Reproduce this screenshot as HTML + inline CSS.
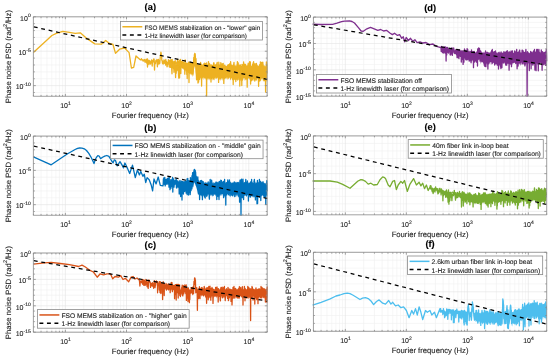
<!DOCTYPE html><html><head><meta charset="utf-8"><style>html,body{margin:0;padding:0;background:#fff;}svg{display:block;}</style></head><body><svg xmlns="http://www.w3.org/2000/svg" width="550" height="360" viewBox="0 0 550 360" font-family="Liberation Sans, sans-serif" fill="#262626" stroke-width="0" text-rendering="geometricPrecision"><defs><filter id="bl" x="0" y="0" width="550" height="360" filterUnits="userSpaceOnUse"><feGaussianBlur stdDeviation="0.35"/></filter></defs><g filter="url(#bl)"><rect width="550" height="360" fill="#fff"/><path d="M33.4 16.8V96.3M41.04 16.8V96.3M46.96 16.8V96.3M51.81 16.8V96.3M55.9 16.8V96.3M59.44 16.8V96.3M62.57 16.8V96.3M83.78 16.8V96.3M94.54 16.8V96.3M102.18 16.8V96.3M108.11 16.8V96.3M112.95 16.8V96.3M117.04 16.8V96.3M120.59 16.8V96.3M123.71 16.8V96.3M144.92 16.8V96.3M155.68 16.8V96.3M163.32 16.8V96.3M169.25 16.8V96.3M174.09 16.8V96.3M178.18 16.8V96.3M181.73 16.8V96.3M184.86 16.8V96.3M206.06 16.8V96.3M216.82 16.8V96.3M224.46 16.8V96.3M230.39 16.8V96.3M235.23 16.8V96.3M239.32 16.8V96.3M242.87 16.8V96.3M246 16.8V96.3M267.2 16.8V96.3M33.4 23.68H267.2M33.4 30.57H267.2M33.4 37.45H267.2M33.4 44.33H267.2M33.4 58.1H267.2M33.4 64.98H267.2M33.4 71.86H267.2M33.4 78.75H267.2M33.4 92.51H267.2" stroke="#f0f0f0" stroke-width="0.6" fill="none"/>
<path d="M65.37 16.8V96.3M126.51 16.8V96.3M187.65 16.8V96.3M248.79 16.8V96.3M33.4 16.8H267.2M33.4 51.22H267.2M33.4 85.63H267.2" stroke="#e3e3e3" stroke-width="0.6" fill="none"/>
<path d="M33.4 136.1V215.3M41.04 136.1V215.3M46.96 136.1V215.3M51.81 136.1V215.3M55.9 136.1V215.3M59.44 136.1V215.3M62.57 136.1V215.3M83.78 136.1V215.3M94.54 136.1V215.3M102.18 136.1V215.3M108.11 136.1V215.3M112.95 136.1V215.3M117.04 136.1V215.3M120.59 136.1V215.3M123.71 136.1V215.3M144.92 136.1V215.3M155.68 136.1V215.3M163.32 136.1V215.3M169.25 136.1V215.3M174.09 136.1V215.3M178.18 136.1V215.3M181.73 136.1V215.3M184.86 136.1V215.3M206.06 136.1V215.3M216.82 136.1V215.3M224.46 136.1V215.3M230.39 136.1V215.3M235.23 136.1V215.3M239.32 136.1V215.3M242.87 136.1V215.3M246 136.1V215.3M267.2 136.1V215.3M33.4 142.96H267.2M33.4 149.81H267.2M33.4 156.67H267.2M33.4 163.53H267.2M33.4 177.24H267.2M33.4 184.1H267.2M33.4 190.96H267.2M33.4 197.81H267.2M33.4 211.53H267.2" stroke="#f0f0f0" stroke-width="0.6" fill="none"/>
<path d="M65.37 136.1V215.3M126.51 136.1V215.3M187.65 136.1V215.3M248.79 136.1V215.3M33.4 136.1H267.2M33.4 170.39H267.2M33.4 204.67H267.2" stroke="#e3e3e3" stroke-width="0.6" fill="none"/>
<path d="M33.4 253V332.2M41.04 253V332.2M46.96 253V332.2M51.81 253V332.2M55.9 253V332.2M59.44 253V332.2M62.57 253V332.2M83.78 253V332.2M94.54 253V332.2M102.18 253V332.2M108.11 253V332.2M112.95 253V332.2M117.04 253V332.2M120.59 253V332.2M123.71 253V332.2M144.92 253V332.2M155.68 253V332.2M163.32 253V332.2M169.25 253V332.2M174.09 253V332.2M178.18 253V332.2M181.73 253V332.2M184.86 253V332.2M206.06 253V332.2M216.82 253V332.2M224.46 253V332.2M230.39 253V332.2M235.23 253V332.2M239.32 253V332.2M242.87 253V332.2M246 253V332.2M267.2 253V332.2M33.4 258.28H267.2M33.4 263.56H267.2M33.4 268.84H267.2M33.4 274.12H267.2M33.4 284.68H267.2M33.4 289.96H267.2M33.4 295.24H267.2M33.4 300.52H267.2M33.4 311.08H267.2M33.4 316.36H267.2M33.4 321.64H267.2M33.4 326.92H267.2" stroke="#f0f0f0" stroke-width="0.6" fill="none"/>
<path d="M65.37 253V332.2M126.51 253V332.2M187.65 253V332.2M248.79 253V332.2M33.4 253H267.2M33.4 279.4H267.2M33.4 305.8H267.2M33.4 332.2H267.2" stroke="#e3e3e3" stroke-width="0.6" fill="none"/>
<path d="M313.45 17.1V96.2M321.07 17.1V96.2M326.98 17.1V96.2M331.81 17.1V96.2M335.9 17.1V96.2M339.43 17.1V96.2M342.55 17.1V96.2M363.71 17.1V96.2M374.45 17.1V96.2M382.07 17.1V96.2M387.98 17.1V96.2M392.81 17.1V96.2M396.89 17.1V96.2M400.43 17.1V96.2M403.55 17.1V96.2M424.7 17.1V96.2M435.45 17.1V96.2M443.07 17.1V96.2M448.98 17.1V96.2M453.81 17.1V96.2M457.89 17.1V96.2M461.43 17.1V96.2M464.55 17.1V96.2M485.7 17.1V96.2M496.44 17.1V96.2M504.06 17.1V96.2M509.98 17.1V96.2M514.81 17.1V96.2M518.89 17.1V96.2M522.43 17.1V96.2M525.55 17.1V96.2M546.7 17.1V96.2M313.45 22.37H546.7M313.45 27.65H546.7M313.45 32.92H546.7M313.45 38.19H546.7M313.45 48.74H546.7M313.45 54.01H546.7M313.45 59.29H546.7M313.45 64.56H546.7M313.45 75.11H546.7M313.45 80.38H546.7M313.45 85.65H546.7M313.45 90.93H546.7" stroke="#f0f0f0" stroke-width="0.6" fill="none"/>
<path d="M345.34 17.1V96.2M406.34 17.1V96.2M467.34 17.1V96.2M528.34 17.1V96.2M313.45 17.1H546.7M313.45 43.47H546.7M313.45 69.83H546.7M313.45 96.2H546.7" stroke="#e3e3e3" stroke-width="0.6" fill="none"/>
<path d="M313.45 135.9V214.8M321.07 135.9V214.8M326.98 135.9V214.8M331.81 135.9V214.8M335.9 135.9V214.8M339.43 135.9V214.8M342.55 135.9V214.8M363.71 135.9V214.8M374.45 135.9V214.8M382.07 135.9V214.8M387.98 135.9V214.8M392.81 135.9V214.8M396.89 135.9V214.8M400.43 135.9V214.8M403.55 135.9V214.8M424.7 135.9V214.8M435.45 135.9V214.8M443.07 135.9V214.8M448.98 135.9V214.8M453.81 135.9V214.8M457.89 135.9V214.8M461.43 135.9V214.8M464.55 135.9V214.8M485.7 135.9V214.8M496.44 135.9V214.8M504.06 135.9V214.8M509.98 135.9V214.8M514.81 135.9V214.8M518.89 135.9V214.8M522.43 135.9V214.8M525.55 135.9V214.8M546.7 135.9V214.8M313.45 143.45H546.7M313.45 151H546.7M313.45 158.55H546.7M313.45 166.1H546.7M313.45 181.2H546.7M313.45 188.75H546.7M313.45 196.3H546.7M313.45 203.85H546.7" stroke="#f0f0f0" stroke-width="0.6" fill="none"/>
<path d="M345.34 135.9V214.8M406.34 135.9V214.8M467.34 135.9V214.8M528.34 135.9V214.8M313.45 135.9H546.7M313.45 173.65H546.7M313.45 211.4H546.7" stroke="#e3e3e3" stroke-width="0.6" fill="none"/>
<path d="M313.45 252.3V331.3M321.07 252.3V331.3M326.98 252.3V331.3M331.81 252.3V331.3M335.9 252.3V331.3M339.43 252.3V331.3M342.55 252.3V331.3M363.71 252.3V331.3M374.45 252.3V331.3M382.07 252.3V331.3M387.98 252.3V331.3M392.81 252.3V331.3M396.89 252.3V331.3M400.43 252.3V331.3M403.55 252.3V331.3M424.7 252.3V331.3M435.45 252.3V331.3M443.07 252.3V331.3M448.98 252.3V331.3M453.81 252.3V331.3M457.89 252.3V331.3M461.43 252.3V331.3M464.55 252.3V331.3M485.7 252.3V331.3M496.44 252.3V331.3M504.06 252.3V331.3M509.98 252.3V331.3M514.81 252.3V331.3M518.89 252.3V331.3M522.43 252.3V331.3M525.55 252.3V331.3M546.7 252.3V331.3M313.45 260.2H546.7M313.45 268.1H546.7M313.45 276H546.7M313.45 283.9H546.7M313.45 299.7H546.7M313.45 307.6H546.7M313.45 315.5H546.7M313.45 323.4H546.7" stroke="#f0f0f0" stroke-width="0.6" fill="none"/>
<path d="M345.34 252.3V331.3M406.34 252.3V331.3M467.34 252.3V331.3M528.34 252.3V331.3M313.45 252.3H546.7M313.45 291.8H546.7M313.45 331.3H546.7" stroke="#e3e3e3" stroke-width="0.6" fill="none"/>
<path d="M33.4 52.5 51.9 35.5 56.3 33.3 62.8 31.4 67.9 32.1 75.2 33.3 80.3 32.8 86.8 38.4 94.8 43.9 101.4 44.2 105.7 40.5 109.4 43.5 113.0 44.5 115.5 53.3 119.6 49.2 124.6 48.0 129.1 52.6 131.4 68.0 133.7 67.4 136.0 56.0 140.5 59.9 141.0 59.7 141.4 58.7 141.9 60.0 142.3 60.0 142.8 59.8 143.2 61.2 143.6 60.1 144.0 59.8 144.5 59.4 144.9 62.0 145.3 60.9 145.7 62.2 146.0 59.5 146.4 59.8 146.8 63.1 147.2 58.7 147.5 67.0 147.9 60.0 148.3 60.2 148.6 61.9 149.0 64.5 149.3 60.5 149.6 63.1 150.0 61.9 150.3 61.6 150.6 64.0 150.9 60.9 151.3 61.0 151.6 59.8 151.9 60.8 152.2 66.0 152.5 60.9 152.8 60.4 153.1 61.1 153.4 61.8 153.7 59.0 154.0 59.0 154.2 59.9 154.5 70.0 154.8 61.8 155.1 62.2 155.3 61.9 155.6 63.7 155.9 60.3 156.1 61.5 156.4 60.1 156.7 61.6 156.9 59.5 157.2 60.1 157.4 66.8 157.7 62.6 157.9 59.9 158.2 61.5 158.4 59.3 158.6 61.8 158.9 64.1 159.1 61.0 159.3 60.5 159.6 62.3 159.8 63.3 160.0 60.6 160.3 56.7 160.5 55.1 160.7 54.1 160.9 52.1 161.1 52.9 161.4 55.5 161.6 55.8 161.8 60.2 162.0 60.2 162.2 61.4 162.4 63.1 162.6 60.9 162.8 63.8 163.0 61.3 163.2 64.0 163.4 62.1 163.6 63.2 163.8 62.9 164.0 59.8 164.2 60.8 164.4 62.8 164.6 60.5 164.8 63.4 165.0 62.4 165.2 60.7 165.4 61.6 165.6 65.0 165.8 59.5 166.0 64.0 166.2 63.8 166.4 61.2 166.6 63.5 166.8 63.9 167.0 66.8 167.2 66.6 167.4 62.4 167.6 64.8 167.8 62.4 168.0 63.9 168.2 63.4 168.4 59.7 168.6 63.4 168.8 62.8 169.0 60.8 169.2 66.5 169.4 67.1 169.6 60.4 169.8 61.3 170.0 66.1 170.2 67.1 170.4 62.0 170.6 59.9 170.8 67.4 171.0 59.7 171.2 60.7 171.4 63.3 171.6 65.1 171.8 70.3 172.0 73.8 172.2 59.4 172.4 67.6 172.6 62.7 172.8 67.4 173.0 61.6 173.2 63.7 173.4 66.9 173.6 68.9 173.8 62.7 174.0 72.3 174.2 68.1 174.4 64.3 174.6 61.5 174.8 63.8 175.0 67.4 175.2 60.6 175.4 68.7 175.6 77.6 175.8 67.7 176.0 65.6 176.2 73.3 176.4 69.5 176.6 66.6 176.8 64.5 177.0 70.7 177.2 66.7 177.4 61.3 177.6 59.4 177.8 63.9 178.0 63.6 178.2 64.6 178.4 70.7 178.6 75.7 178.8 78.2 179.0 61.2 179.2 63.6 179.4 60.2 179.6 77.8 179.8 64.3 180.0 65.9 180.2 63.5 180.4 67.8 180.6 59.5 180.8 73.5 181.0 65.4 181.2 63.5 181.4 61.6 181.6 63.6 181.8 64.0 182.0 63.1 182.2 61.5 182.4 67.7 182.6 64.2 182.8 61.8 183.0 62.2 183.2 67.1 183.4 63.3 183.6 62.4 183.8 65.5 184.0 65.0 184.2 67.7 184.4 65.5 184.6 65.3 184.8 74.2 185.0 65.0 185.2 59.9 185.4 62.4 185.6 64.2 185.8 67.8 186.0 64.2 186.2 65.8 186.4 67.3 186.6 63.1 186.8 74.4 187.0 64.2 187.2 78.5 187.4 65.8 187.6 67.1 187.8 70.5 188.0 64.9 188.2 67.0 188.4 65.8 188.6 62.1 188.8 70.3 189.0 82.6 189.2 69.6 189.4 65.3 189.6 71.4 189.8 72.2 190.0 62.5 190.2 65.6 190.4 67.9 190.6 62.8 190.8 69.5 191.0 65.6 191.2 71.8 191.4 68.2 191.6 64.1 191.8 62.6 192.0 63.2 192.2 68.9 192.4 66.6 192.6 69.8 192.8 73.3 193.0 67.0 193.2 62.8 193.4 61.8 193.6 61.9 193.8 57.3 194.0 61.2 194.2 59.5 194.4 54.6 194.6 54.0 194.8 54.0 195.0 53.6 195.2 54.4 195.4 57.6 195.6 61.9 195.8 59.7 196.0 58.6 196.2 66.7 196.4 75.5 196.6 79.8 196.8 63.7 197.0 79.4 197.2 66.0 197.4 67.5 197.6 70.9 197.8 65.1 198.0 83.0 198.2 74.8 198.4 69.1 198.6 82.1 198.8 64.7 199.0 72.5 199.2 74.9 199.4 79.6 199.6 67.2 199.8 69.4 200.0 67.3 200.2 67.0 200.4 65.2 200.6 62.5 200.8 66.7 201.0 73.5 201.2 69.1 201.4 74.0 201.6 86.0 201.8 69.1 202.0 66.3 202.2 74.0 202.4 72.0 202.6 70.8 202.8 66.5 203.0 68.6 203.2 67.5 203.4 65.9 203.6 70.2 203.8 65.4 204.0 63.7 204.2 77.2 204.4 63.2 204.6 66.3 204.8 75.5 205.0 69.4 205.2 67.4 205.4 63.7 205.6 70.4 205.8 68.0 206.0 64.2 206.2 65.4 206.4 62.9 206.6 96.0 206.8 67.1 207.0 73.4 207.2 66.3 207.4 65.1 207.6 67.2 207.8 66.4 208.0 73.3 208.2 63.9 208.4 61.7 208.6 61.8 208.8 68.4 209.0 65.5 209.2 71.3 209.4 63.7 209.6 64.6 209.8 70.9 210.0 77.5 210.2 69.6 210.4 68.3 210.6 65.8 210.8 69.0 211.0 82.1 211.2 65.3 211.4 78.7 211.6 65.4 211.8 74.3 212.0 71.1 212.2 65.6 212.4 75.3 212.6 75.0 212.8 68.7 213.0 66.3 213.2 64.9 213.4 66.7 213.6 62.9 213.8 69.0 214.0 62.9 214.2 77.5 214.4 73.2 214.6 68.6 214.8 71.9 215.0 66.3 215.2 67.3 215.4 68.7 215.6 64.8 215.8 68.3 216.0 71.5 216.2 70.5 216.4 64.8 216.6 63.9 216.8 73.5 217.0 64.8 217.2 62.3 217.4 68.7 217.6 68.1 217.8 73.7 218.0 68.6 218.2 68.9 218.4 67.8 218.6 82.4 218.8 62.2 219.0 68.8 219.2 70.3 219.4 65.5 219.6 68.3 219.8 69.1 220.0 66.8 220.2 78.7 220.4 68.6 220.6 70.1 220.8 62.7 221.0 63.5 221.2 72.4 221.4 69.4 221.6 75.9 221.8 69.9 222.0 65.3 222.2 64.0 222.4 69.3 222.6 71.5 222.8 74.0 223.0 67.7 223.2 63.5 223.4 75.8 223.6 65.8 223.8 83.4 224.0 74.0 224.2 73.2 224.4 66.9 224.6 71.5 224.8 71.0 225.0 67.7 225.2 76.8 225.4 66.4 225.6 76.1 225.8 69.0 226.0 72.8 226.2 73.9 226.4 68.7 226.6 69.9 226.8 70.7 227.0 70.2 227.2 68.7 227.4 74.9 227.6 73.8 227.8 67.6 228.0 67.5 228.2 68.8 228.4 64.8 228.6 67.8 228.8 64.8 229.0 73.2 229.2 66.3 229.4 65.4 229.6 64.0 229.8 71.7 230.0 71.7 230.2 63.6 230.4 73.5 230.6 61.6 230.8 64.3 231.0 75.8 231.2 73.1 231.4 66.5 231.6 72.7 231.8 77.3 232.0 65.2 232.2 70.2 232.4 65.7 232.6 76.1 232.8 70.4 233.0 67.0 233.2 84.6 233.4 74.0 233.6 67.0 233.8 63.9 234.0 62.4 234.2 76.5 234.4 69.1 234.6 66.2 234.8 69.2 235.0 67.0 235.2 74.3 235.4 78.7 235.6 76.9 235.8 81.5 236.0 68.6 236.2 69.0 236.4 68.4 236.6 75.5 236.8 74.4 237.0 73.9 237.2 65.1 237.4 61.6 237.6 63.6 237.8 77.4 238.0 79.4 238.2 63.0 238.4 69.7 238.6 66.1 238.8 71.6 239.0 69.7 239.2 69.1 239.4 70.1 239.6 68.1 239.8 86.1 240.0 66.9 240.2 65.1 240.4 74.6 240.6 69.8 240.8 66.4 241.0 70.5 241.2 74.2 241.4 75.0 241.6 69.1 241.8 85.5 242.0 64.3 242.2 65.7 242.4 66.9 242.6 64.8 242.8 67.8 243.0 70.5 243.2 68.1 243.4 69.2 243.6 61.8 243.8 65.6 244.0 72.9 244.2 64.0 244.4 66.4 244.6 66.0 244.8 65.5 245.0 70.5 245.2 64.3 245.4 64.5 245.6 67.0 245.8 66.2 246.0 66.2 246.2 70.6 246.4 66.7 246.6 79.0 246.8 71.5 247.0 69.7 247.2 87.2 247.4 71.3 247.6 67.7 247.8 67.9 248.0 73.5 248.2 63.2 248.4 67.4 248.6 71.6 248.8 67.5 249.0 68.5 249.2 69.0 249.4 70.8 249.6 61.7 249.8 67.7 250.0 67.0 250.2 66.3 250.4 62.0 250.6 84.0 250.8 68.0 251.0 66.6 251.2 73.0 251.4 70.7 251.6 80.5 251.8 74.4 252.0 71.1 252.2 77.6 252.4 73.2 252.6 64.1 252.8 68.8 253.0 69.3 253.2 62.6 253.4 68.6 253.6 61.7 253.8 67.8 254.0 65.7 254.2 78.8 254.4 68.3 254.6 66.3 254.8 81.1 255.0 63.7 255.2 75.4 255.4 69.8 255.6 75.1 255.8 69.5 256.0 68.1 256.2 80.0 256.4 63.3 256.6 70.5 256.8 69.1 257.0 68.3 257.2 71.3 257.4 72.6 257.6 67.6 257.8 68.7 258.0 72.6 258.2 66.9 258.4 72.4 258.6 86.3 258.8 73.4 259.0 81.4 259.2 75.6 259.4 66.4 259.6 71.0 259.8 64.4 260.0 66.5 260.2 80.7 260.4 61.8 260.6 63.3 260.8 79.0 261.0 64.2 261.2 70.4 261.4 69.8 261.6 62.4 261.8 73.5 262.0 69.2 262.2 63.5 262.4 66.9 262.6 69.9 262.8 62.1 263.0 65.7 263.2 68.3 263.4 77.1 263.6 68.1 263.8 70.1 264.0 74.4 264.2 80.7 264.4 69.2 264.6 76.7 264.8 70.3 265.0 67.6 265.2 70.1 265.4 73.1 265.6 92.0 265.8 70.6 266.0 66.2 266.2 69.2 266.4 61.8 266.6 63.2 266.8 66.8 267.0 73.6" stroke="#EDB120" stroke-width="1.3" fill="none" stroke-linejoin="round"/>
<path d="M170.0 60.5 170.4 61.8 170.8 61.0 171.2 61.7 171.6 61.5 172.0 61.9 172.4 60.9 172.8 62.4 173.2 60.5 173.6 61.1 174.0 61.9 174.4 61.8 174.8 60.8 175.2 61.9 175.6 61.5 176.0 61.2 176.4 62.5 176.8 61.0 177.2 62.8 177.6 62.7 178.0 61.9 178.4 62.9 178.8 62.6 179.2 61.9 179.6 62.9 180.0 62.2 180.4 61.4 180.8 61.4 181.2 62.7 181.6 63.0 182.0 63.3 182.4 62.0 182.8 61.7 183.2 63.3 183.6 62.3 184.0 62.5 184.4 62.6 184.8 63.5 185.2 64.1 185.6 64.1 186.0 63.9 186.4 62.7 186.8 64.3 187.2 62.6 187.6 63.0 188.0 63.1 188.4 62.6 188.8 64.3 189.2 64.4 189.6 62.7 190.0 64.6 190.4 62.4 190.8 63.8 191.2 65.0 191.6 64.6 192.0 64.0 192.4 62.8 192.8 64.4 193.2 62.0 193.6 60.3 194.0 58.2 194.4 53.2 194.8 52.3 195.2 53.8 195.6 59.3 196.0 61.5 196.4 64.1 196.8 65.4 197.2 65.4 197.6 65.6 198.0 65.6 198.4 66.0 198.8 64.8 199.2 65.6 199.6 64.6 200.0 65.6 200.4 64.5 200.8 64.0 201.2 64.3 201.6 63.6 202.0 63.8 202.4 65.7 202.8 63.7 203.2 65.1 203.6 63.6 204.0 64.0 204.4 64.2 204.8 65.2 205.2 64.0 205.6 64.0 206.0 64.4 206.4 65.8 206.8 64.3 207.2 66.1 207.6 65.1 208.0 64.9 208.4 63.7 208.8 65.8 209.2 65.0 209.6 64.3 210.0 65.4 210.4 63.6 210.8 64.6 211.2 65.6 211.6 64.0 212.0 64.5 212.4 66.1 212.8 65.4 213.2 64.3 213.6 64.0 214.0 63.6 214.4 66.0 214.8 63.8 215.2 65.6 215.6 65.0 216.0 66.3 216.4 66.1 216.8 65.9 217.2 66.2 217.6 66.0 218.0 65.2 218.4 64.1 218.8 64.5 219.2 63.8 219.6 65.0 220.0 64.7 220.4 63.9 220.8 65.0 221.2 66.0 221.6 63.7 222.0 65.7 222.4 65.3 222.8 63.7 223.2 66.0 223.6 65.4 224.0 64.7 224.4 64.5 224.8 64.8 225.2 64.4 225.6 65.8 226.0 66.4 226.4 65.8 226.8 66.1 227.2 64.1 227.6 65.6 228.0 64.2 228.4 66.1 228.8 63.9 229.2 64.1 229.6 64.9 230.0 66.4 230.4 65.2 230.8 65.9 231.2 64.8 231.6 64.9 232.0 64.9 232.4 66.6 232.8 65.6 233.2 63.8 233.6 64.7 234.0 64.0 234.4 65.2 234.8 66.2 235.2 64.2 235.6 66.4 236.0 64.8 236.4 64.2 236.8 66.6 237.2 65.9 237.6 64.3 238.0 65.6 238.4 64.0 238.8 65.5 239.2 64.7 239.6 64.8 240.0 64.1 240.4 64.2 240.8 65.4 241.2 65.4 241.6 66.5 242.0 66.2 242.4 64.2 242.8 64.7 243.2 64.5 243.6 66.3 244.0 65.4 244.4 63.9 244.8 66.7 245.2 65.8 245.6 65.8 246.0 65.0 246.4 66.2 246.8 64.4 247.2 64.3 247.6 65.5 248.0 65.4 248.4 65.5 248.8 65.7 249.2 65.8 249.6 66.7 250.0 65.3 250.4 65.7 250.8 66.1 251.2 65.3 251.6 66.4 252.0 65.1 252.4 65.6 252.8 65.4 253.2 65.2 253.6 64.8 254.0 66.0 254.4 66.1 254.8 66.1 255.2 65.7 255.6 64.3 256.0 65.4 256.4 64.1 256.8 65.5 257.2 64.8 257.6 64.6 258.0 66.6 258.4 65.9 258.8 65.2 259.2 64.6 259.6 65.6 260.0 64.2 260.4 64.3 260.8 66.8 261.2 64.7 261.6 64.9 262.0 66.6 262.4 65.1 262.8 65.7 263.2 64.1 263.6 64.9 264.0 66.8 264.4 65.4 264.8 64.9 265.2 66.7 265.6 66.5 266.0 65.4 266.4 66.6 266.8 64.6 267.2 64.6 267.2 81.5 266.8 80.5 266.4 82.0 266.0 78.7 265.6 79.4 265.2 78.7 264.8 81.6 264.4 78.8 264.0 81.8 263.6 79.9 263.2 81.5 262.8 78.1 262.4 79.3 262.0 81.2 261.6 78.1 261.2 79.1 260.8 77.9 260.4 80.0 260.0 81.0 259.6 81.5 259.2 80.8 258.8 81.0 258.4 81.3 258.0 81.7 257.6 78.1 257.2 79.4 256.8 78.8 256.4 80.6 256.0 79.4 255.6 79.6 255.2 78.1 254.8 79.0 254.4 80.1 254.0 81.3 253.6 78.0 253.2 81.3 252.8 79.8 252.4 81.3 252.0 79.4 251.6 81.1 251.2 81.6 250.8 80.7 250.4 80.4 250.0 79.3 249.6 80.0 249.2 78.2 248.8 77.8 248.4 79.0 248.0 78.7 247.6 78.3 247.2 79.2 246.8 79.5 246.4 77.7 246.0 79.9 245.6 80.5 245.2 78.8 244.8 81.3 244.4 78.3 244.0 77.9 243.6 78.3 243.2 79.8 242.8 81.1 242.4 80.8 242.0 79.9 241.6 81.4 241.2 78.6 240.8 79.7 240.4 81.0 240.0 81.3 239.6 79.3 239.2 81.1 238.8 80.2 238.4 78.4 238.0 78.2 237.6 81.1 237.2 80.7 236.8 79.5 236.4 80.2 236.0 79.4 235.6 79.6 235.2 80.4 234.8 79.8 234.4 80.5 234.0 78.9 233.6 79.9 233.2 78.7 232.8 79.7 232.4 80.4 232.0 80.1 231.6 77.4 231.2 78.6 230.8 80.5 230.4 79.8 230.0 79.0 229.6 77.6 229.2 77.8 228.8 78.2 228.4 79.6 228.0 78.8 227.6 80.0 227.2 77.6 226.8 77.6 226.4 78.5 226.0 79.4 225.6 78.5 225.2 78.0 224.8 79.8 224.4 78.5 224.0 79.3 223.6 78.3 223.2 78.0 222.8 81.0 222.4 78.9 222.0 78.1 221.6 78.6 221.2 79.7 220.8 80.9 220.4 78.7 220.0 79.8 219.6 79.9 219.2 78.3 218.8 78.3 218.4 80.3 218.0 79.1 217.6 77.9 217.2 77.4 216.8 78.7 216.4 78.2 216.0 79.3 215.6 78.8 215.2 77.4 214.8 78.1 214.4 80.2 214.0 80.2 213.6 80.0 213.2 79.0 212.8 80.8 212.4 79.0 212.0 78.0 211.6 77.6 211.2 79.3 210.8 80.0 210.4 78.8 210.0 77.8 209.6 80.7 209.2 78.9 208.8 78.4 208.4 80.5 208.0 77.7 207.6 80.5 207.2 78.2 206.8 80.3 206.4 78.7 206.0 79.0 205.6 79.7 205.2 77.9 204.8 77.7 204.4 79.6 204.0 77.7 203.6 77.2 203.2 80.3 202.8 78.5 202.4 77.5 202.0 79.3 201.6 78.0 201.2 80.5 200.8 78.4 200.4 77.4 200.0 80.5 199.6 77.2 199.2 78.2 198.8 79.2 198.4 78.8 198.0 79.6 197.6 79.2 197.2 78.6 196.8 77.4 196.4 77.7 196.0 75.0 195.6 72.0 195.2 66.7 194.8 66.3 194.4 67.8 194.0 69.5 193.6 74.5 193.2 75.7 192.8 77.1 192.4 74.0 192.0 76.3 191.6 73.4 191.2 75.2 190.8 74.6 190.4 74.2 190.0 73.0 189.6 74.4 189.2 73.5 188.8 73.1 188.4 72.9 188.0 72.0 187.6 71.6 187.2 71.4 186.8 72.9 186.4 70.9 186.0 70.3 185.6 70.5 185.2 72.0 184.8 70.4 184.4 68.6 184.0 70.4 183.6 68.2 183.2 69.8 182.8 68.2 182.4 69.1 182.0 66.9 181.6 67.4 181.2 67.8 180.8 66.2 180.4 68.5 180.0 66.6 179.6 68.2 179.2 66.7 178.8 67.9 178.4 65.6 178.0 65.0 177.6 64.7 177.2 65.7 176.8 63.9 176.4 65.9 176.0 64.1 175.6 64.3 175.2 64.5 174.8 64.4 174.4 62.3 174.0 62.2 173.6 62.9 173.2 61.6 172.8 63.8 172.4 63.9 172.0 61.9 171.6 62.4 171.2 62.0 170.8 61.0 170.4 61.8 170.0 62.2Z" fill="#EDB120" stroke="none"/>
<path d="M33.4 156.9 51.2 164.8 67.2 154.0 75.1 149.5 77.5 148.4 79.7 148.0 82.0 148.1 84.3 148.8 86.5 150.5 88.8 153.4 91.5 158.0 94.0 163.6 95.5 159.0 96.8 156.8 97.8 155.6 99.1 156.0 100.6 158.6 102.6 157.3 104.7 156.1 106.8 155.5 108.9 156.4 111.7 161.0 113.1 162.8 114.4 159.8 115.5 160.5 117.2 165.8 120.0 161.7 122.1 165.1 123.5 167.9 124.9 163.0 127.0 167.2 129.7 173.5 132.5 165.1 135.3 177.6 137.4 170.0 139.4 174.9 140.8 171.4 142.9 176.3 144.3 174.2 145.7 182.5 147.1 177.6 149.2 179.7 151.3 185.3 152.6 190.8 154.0 179.0 156.1 183.9 158.2 177.0 160.3 185.3 163.0 185.9 163.2 184.3 163.4 179.0 163.6 181.8 163.8 177.8 164.0 178.1 164.2 179.3 164.4 184.3 164.6 179.5 164.8 177.5 165.0 181.2 165.2 185.9 165.4 183.3 165.6 182.5 165.8 179.6 166.0 183.9 166.2 184.2 166.4 183.5 166.6 180.1 166.8 179.2 167.0 182.3 167.2 180.2 167.4 178.5 167.6 180.8 167.8 184.1 168.0 183.3 168.2 178.1 168.4 180.4 168.6 183.8 168.8 180.7 169.0 187.2 169.2 177.0 169.4 182.4 169.6 181.8 169.8 181.8 170.0 189.7 170.2 181.3 170.4 184.3 170.6 184.7 170.8 179.8 171.0 188.2 171.2 184.5 171.4 180.4 171.6 185.1 171.8 184.8 172.0 182.2 172.2 186.3 172.4 179.1 172.6 177.3 172.8 192.0 173.0 183.2 173.2 180.7 173.4 184.1 173.6 178.8 173.8 183.1 174.0 187.1 174.2 182.6 174.4 181.9 174.6 184.7 174.8 181.9 175.0 180.8 175.2 183.2 175.4 183.4 175.6 180.2 175.8 181.8 176.0 183.3 176.2 178.7 176.4 187.8 176.6 181.0 176.8 188.1 177.0 182.7 177.2 186.8 177.4 184.3 177.6 181.2 177.8 181.1 178.0 181.1 178.2 187.0 178.4 184.0 178.6 187.3 178.8 183.2 179.0 184.0 179.2 194.0 179.4 183.1 179.6 182.1 179.8 183.4 180.0 180.4 180.2 188.4 180.4 189.1 180.6 196.6 180.8 184.3 181.0 184.9 181.2 184.8 181.4 187.1 181.6 181.4 181.8 191.9 182.0 200.0 182.2 183.7 182.4 183.9 182.6 181.6 182.8 187.6 183.0 189.5 183.2 186.6 183.4 194.1 183.6 186.6 183.8 183.3 184.0 184.2 184.2 187.4 184.4 183.7 184.6 191.6 184.8 181.4 185.0 189.2 185.2 187.6 185.4 189.5 185.6 182.8 185.8 181.3 186.0 181.8 186.2 193.2 186.4 185.7 186.6 186.2 186.8 188.5 187.0 179.0 187.2 194.7 187.4 184.9 187.6 182.2 187.8 178.4 188.0 190.2 188.2 185.3 188.4 182.4 188.6 195.1 188.8 188.1 189.0 180.6 189.2 190.2 189.4 185.9 189.6 187.0 189.8 185.3 190.0 192.0 190.2 194.6 190.4 177.6 190.6 181.1 190.8 181.0 191.0 186.0 191.2 185.1 191.4 181.2 191.6 183.8 191.8 180.6 192.0 175.7 192.2 179.8 192.4 179.1 192.6 172.6 192.8 175.2 193.0 181.0 193.2 174.7 193.4 172.5 193.6 176.8 193.8 172.8 194.0 170.6 194.2 169.6 194.4 170.6 194.6 169.3 194.8 171.4 195.0 172.1 195.2 170.4 195.4 173.4 195.6 172.0 195.8 176.4 196.0 176.3 196.2 179.0 196.4 176.8 196.6 181.7 196.8 182.1 197.0 183.0 197.2 181.0 197.4 183.5 197.6 182.7 197.8 176.8 198.0 181.7 198.2 180.1 198.4 188.3 198.6 185.9 198.8 193.1 199.0 183.1 199.2 186.9 199.4 188.4 199.6 199.5 199.8 190.5 200.0 189.0 200.2 187.1 200.4 180.7 200.6 183.6 200.8 189.0 201.0 187.6 201.2 191.5 201.4 180.5 201.6 187.7 201.8 183.1 202.0 183.5 202.2 181.1 202.4 199.7 202.6 188.2 202.8 187.4 203.0 194.1 203.2 181.6 203.4 188.2 203.6 183.0 203.8 185.8 204.0 195.8 204.2 187.3 204.4 189.7 204.6 197.0 204.8 191.7 205.0 184.9 205.2 198.0 205.4 188.4 205.6 186.9 205.8 185.5 206.0 192.1 206.2 183.8 206.4 189.3 206.6 183.6 206.8 184.2 207.0 191.8 207.2 190.4 207.4 189.0 207.6 183.7 207.8 187.2 208.0 187.4 208.2 181.8 208.4 190.0 208.6 188.8 208.8 188.0 209.0 190.2 209.2 197.1 209.4 199.2 209.6 184.6 209.8 185.3 210.0 182.6 210.2 179.4 210.4 188.7 210.6 184.2 210.8 181.0 211.0 190.2 211.2 184.0 211.4 184.3 211.6 180.2 211.8 181.8 212.0 189.8 212.2 184.6 212.4 194.0 212.6 186.9 212.8 187.4 213.0 195.6 213.2 187.5 213.4 188.3 213.6 186.1 213.8 189.1 214.0 191.6 214.2 187.3 214.4 186.4 214.6 191.4 214.8 184.3 215.0 189.8 215.2 193.9 215.4 188.1 215.6 187.1 215.8 191.8 216.0 185.2 216.2 183.9 216.4 185.5 216.6 183.9 216.8 199.6 217.0 187.5 217.2 187.8 217.4 195.5 217.6 187.3 217.8 196.1 218.0 186.2 218.2 185.2 218.4 186.5 218.6 188.4 218.8 189.6 219.0 199.6 219.2 188.1 219.4 181.5 219.6 185.4 219.8 189.5 220.0 184.3 220.2 191.0 220.4 186.5 220.6 184.9 220.8 180.2 221.0 187.9 221.2 185.3 221.4 180.6 221.6 183.2 221.8 184.8 222.0 184.9 222.2 187.3 222.4 187.2 222.6 189.2 222.8 182.5 223.0 181.8 223.2 187.7 223.4 181.3 223.6 197.7 223.8 192.4 224.0 186.1 224.2 188.7 224.4 188.0 224.6 179.5 224.8 192.0 225.0 190.9 225.2 190.2 225.4 184.3 225.6 190.1 225.8 205.0 226.0 185.8 226.2 187.6 226.4 190.0 226.6 186.3 226.8 184.6 227.0 185.7 227.2 184.9 227.4 185.6 227.6 182.5 227.8 179.8 228.0 188.4 228.2 188.2 228.4 181.7 228.6 188.7 228.8 183.9 229.0 184.1 229.2 184.2 229.4 180.0 229.6 182.6 229.8 191.8 230.0 184.9 230.2 186.4 230.4 185.6 230.6 187.9 230.8 189.2 231.0 183.5 231.2 185.9 231.4 190.1 231.6 189.9 231.8 188.6 232.0 191.4 232.2 186.2 232.4 192.9 232.6 195.8 232.8 195.5 233.0 193.8 233.2 184.1 233.4 193.4 233.6 186.9 233.8 183.3 234.0 186.6 234.2 191.8 234.4 182.1 234.6 182.0 234.8 196.6 235.0 189.8 235.2 186.3 235.4 183.0 235.6 187.7 235.8 184.0 236.0 189.9 236.2 184.0 236.4 188.6 236.6 188.5 236.8 183.5 237.0 182.4 237.2 182.6 237.4 185.6 237.6 187.4 237.8 184.1 238.0 185.0 238.2 182.6 238.4 183.0 238.6 193.0 238.8 188.0 239.0 184.5 239.2 190.3 239.4 191.4 239.6 202.2 239.8 185.5 240.0 180.7 240.2 179.9 240.4 192.8 240.6 184.3 240.8 187.4 241.0 215.3 241.2 187.7 241.4 180.9 241.6 179.2 241.8 197.1 242.0 184.1 242.2 193.3 242.4 197.7 242.6 189.4 242.8 183.9 243.0 179.2 243.2 193.3 243.4 188.7 243.6 199.6 243.8 186.0 244.0 186.7 244.2 188.1 244.4 189.0 244.6 183.1 244.8 182.6 245.0 189.5 245.2 187.8 245.4 185.2 245.6 183.5 245.8 179.4 246.0 187.9 246.2 184.3 246.4 186.0 246.6 183.1 246.8 192.5 247.0 191.7 247.2 193.9 247.4 181.0 247.6 190.1 247.8 186.7 248.0 193.4 248.2 188.9 248.4 201.1 248.6 185.8 248.8 192.6 249.0 185.1 249.2 189.7 249.4 190.6 249.6 186.8 249.8 188.3 250.0 190.0 250.2 197.0 250.4 196.1 250.6 181.8 250.8 189.1 251.0 195.3 251.2 191.6 251.4 186.8 251.6 179.3 251.8 191.1 252.0 182.2 252.2 186.8 252.4 187.6 252.6 183.1 252.8 187.9 253.0 196.6 253.2 186.0 253.4 184.8 253.6 185.2 253.8 189.7 254.0 180.9 254.2 182.3 254.4 179.3 254.6 187.3 254.8 182.7 255.0 184.1 255.2 191.8 255.4 199.9 255.6 192.0 255.8 193.6 256.0 195.6 256.2 188.4 256.4 183.8 256.6 189.2 256.8 186.5 257.0 203.8 257.2 191.1 257.4 180.4 257.6 203.6 257.8 186.3 258.0 183.1 258.2 183.3 258.4 184.0 258.6 187.9 258.8 183.2 259.0 182.8 259.2 183.6 259.4 179.3 259.6 194.4 259.8 180.7 260.0 187.9 260.2 184.4 260.4 190.3 260.6 181.6 260.8 200.5 261.0 185.8 261.2 190.7 261.4 188.1 261.6 188.4 261.8 184.9 262.0 183.1 262.2 188.4 262.4 185.1 262.6 188.6 262.8 189.8 263.0 181.7 263.2 189.1 263.4 194.7 263.6 188.9 263.8 184.0 264.0 191.1 264.2 184.0 264.4 186.2 264.6 184.7 264.8 192.0 265.0 194.2 265.2 192.9 265.4 188.7 265.6 187.6 265.8 204.4 266.0 186.7 266.2 188.0 266.4 189.1 266.6 186.3 266.8 180.7 267.0 191.3" stroke="#0072BD" stroke-width="1.3" fill="none" stroke-linejoin="round"/>
<path d="M168.0 179.8 168.4 179.6 168.8 180.1 169.2 180.2 169.6 179.2 170.0 178.8 170.4 179.9 170.8 179.2 171.2 179.4 171.6 179.0 172.0 179.5 172.4 179.2 172.8 180.7 173.2 180.3 173.6 180.2 174.0 180.9 174.4 180.1 174.8 180.1 175.2 179.7 175.6 180.5 176.0 179.4 176.4 180.4 176.8 180.7 177.2 179.8 177.6 181.8 178.0 180.3 178.4 181.9 178.8 181.6 179.2 182.0 179.6 180.3 180.0 181.3 180.4 181.7 180.8 181.0 181.2 180.0 181.6 181.6 182.0 181.8 182.4 181.2 182.8 180.4 183.2 181.5 183.6 181.3 184.0 181.2 184.4 182.0 184.8 181.9 185.2 182.3 185.6 180.5 186.0 180.4 186.4 181.0 186.8 182.2 187.2 180.6 187.6 182.3 188.0 182.4 188.4 182.7 188.8 181.8 189.2 181.9 189.6 181.7 190.0 179.8 190.4 180.2 190.8 179.6 191.2 180.0 191.6 177.6 192.0 177.3 192.4 175.0 192.8 174.9 193.2 172.5 193.6 172.6 194.0 170.9 194.4 170.7 194.8 171.4 195.2 172.5 195.6 172.7 196.0 175.3 196.4 176.1 196.8 177.2 197.2 179.3 197.6 180.4 198.0 180.2 198.4 180.7 198.8 181.7 199.2 180.6 199.6 181.4 200.0 183.4 200.4 182.7 200.8 181.5 201.2 181.3 201.6 181.6 202.0 181.8 202.4 183.2 202.8 182.4 203.2 183.4 203.6 181.9 204.0 182.9 204.4 181.9 204.8 183.5 205.2 182.7 205.6 181.9 206.0 181.8 206.4 182.6 206.8 183.6 207.2 182.0 207.6 182.7 208.0 183.7 208.4 182.2 208.8 182.8 209.2 183.7 209.6 182.0 210.0 182.1 210.4 181.2 210.8 182.8 211.2 183.0 211.6 183.2 212.0 183.1 212.4 182.3 212.8 183.4 213.2 183.5 213.6 182.0 214.0 182.5 214.4 183.2 214.8 182.4 215.2 182.6 215.6 181.3 216.0 181.8 216.4 181.7 216.8 181.2 217.2 182.3 217.6 182.3 218.0 181.3 218.4 181.5 218.8 182.5 219.2 182.7 219.6 183.7 220.0 181.1 220.4 183.3 220.8 183.0 221.2 182.5 221.6 181.4 222.0 183.7 222.4 183.4 222.8 182.2 223.2 181.8 223.6 183.6 224.0 182.4 224.4 183.5 224.8 182.7 225.2 183.6 225.6 181.9 226.0 181.8 226.4 182.3 226.8 182.1 227.2 182.4 227.6 183.4 228.0 182.6 228.4 182.2 228.8 181.4 229.2 182.0 229.6 181.8 230.0 182.5 230.4 182.3 230.8 181.2 231.2 183.8 231.6 182.8 232.0 182.0 232.4 182.8 232.8 182.5 233.2 183.3 233.6 181.4 234.0 181.9 234.4 182.4 234.8 182.3 235.2 183.1 235.6 183.9 236.0 182.1 236.4 183.5 236.8 183.0 237.2 183.3 237.6 182.9 238.0 183.8 238.4 181.3 238.8 183.3 239.2 181.2 239.6 182.4 240.0 184.0 240.4 181.4 240.8 182.5 241.2 182.3 241.6 182.5 242.0 182.1 242.4 181.4 242.8 183.6 243.2 182.8 243.6 181.6 244.0 183.9 244.4 183.8 244.8 182.4 245.2 183.6 245.6 183.7 246.0 181.4 246.4 182.3 246.8 183.9 247.2 183.2 247.6 183.5 248.0 183.4 248.4 182.9 248.8 182.3 249.2 182.3 249.6 182.8 250.0 182.9 250.4 182.3 250.8 182.7 251.2 182.2 251.6 182.0 252.0 183.4 252.4 182.1 252.8 183.7 253.2 183.4 253.6 183.1 254.0 184.1 254.4 182.6 254.8 182.0 255.2 181.6 255.6 183.7 256.0 183.3 256.4 182.9 256.8 181.8 257.2 183.5 257.6 181.6 258.0 182.0 258.4 182.9 258.8 181.7 259.2 183.0 259.6 184.0 260.0 182.4 260.4 183.4 260.8 183.8 261.2 182.2 261.6 181.5 262.0 182.1 262.4 182.1 262.8 182.8 263.2 182.2 263.6 182.9 264.0 181.9 264.4 183.9 264.8 183.0 265.2 183.0 265.6 184.1 266.0 182.2 266.4 184.1 266.8 183.7 267.2 182.7 267.2 196.2 266.8 195.6 266.4 196.1 266.0 194.9 265.6 197.7 265.2 197.2 264.8 197.5 264.4 197.0 264.0 197.9 263.6 198.0 263.2 195.7 262.8 195.7 262.4 195.2 262.0 195.8 261.6 196.7 261.2 195.6 260.8 197.4 260.4 195.7 260.0 198.2 259.6 197.2 259.2 198.0 258.8 197.5 258.4 196.9 258.0 195.3 257.6 197.5 257.2 197.6 256.8 198.1 256.4 195.8 256.0 196.7 255.6 194.7 255.2 195.7 254.8 197.4 254.4 196.3 254.0 197.9 253.6 196.6 253.2 196.1 252.8 195.9 252.4 194.7 252.0 196.6 251.6 195.4 251.2 197.1 250.8 198.1 250.4 196.6 250.0 197.6 249.6 195.9 249.2 196.6 248.8 195.0 248.4 195.2 248.0 195.0 247.6 194.8 247.2 195.8 246.8 196.2 246.4 196.9 246.0 196.0 245.6 196.1 245.2 194.8 244.8 196.3 244.4 195.1 244.0 196.4 243.6 195.5 243.2 194.7 242.8 196.8 242.4 194.7 242.0 197.0 241.6 194.7 241.2 195.9 240.8 197.1 240.4 197.2 240.0 197.7 239.6 196.8 239.2 197.0 238.8 196.4 238.4 197.7 238.0 196.6 237.6 196.2 237.2 194.4 236.8 194.4 236.4 197.1 236.0 195.3 235.6 197.2 235.2 194.5 234.8 195.2 234.4 197.3 234.0 197.1 233.6 195.1 233.2 194.3 232.8 196.0 232.4 195.3 232.0 196.3 231.6 195.5 231.2 195.4 230.8 196.3 230.4 197.6 230.0 194.1 229.6 196.8 229.2 195.8 228.8 195.4 228.4 194.8 228.0 196.0 227.6 194.2 227.2 194.2 226.8 195.6 226.4 195.7 226.0 195.3 225.6 196.7 225.2 195.4 224.8 195.8 224.4 197.4 224.0 196.3 223.6 195.1 223.2 194.3 222.8 194.2 222.4 194.1 222.0 196.3 221.6 195.0 221.2 194.0 220.8 194.5 220.4 196.6 220.0 194.4 219.6 195.4 219.2 197.0 218.8 195.3 218.4 197.4 218.0 196.9 217.6 196.9 217.2 195.9 216.8 194.6 216.4 195.3 216.0 196.6 215.6 195.7 215.2 194.3 214.8 194.2 214.4 194.9 214.0 194.2 213.6 195.7 213.2 193.8 212.8 197.2 212.4 193.8 212.0 194.2 211.6 196.4 211.2 194.6 210.8 196.0 210.4 194.3 210.0 196.4 209.6 194.2 209.2 194.4 208.8 194.5 208.4 195.1 208.0 193.9 207.6 196.2 207.2 196.6 206.8 197.2 206.4 197.1 206.0 196.0 205.6 195.3 205.2 195.3 204.8 193.7 204.4 196.8 204.0 196.0 203.6 194.9 203.2 193.9 202.8 193.9 202.4 195.7 202.0 196.5 201.6 195.0 201.2 196.7 200.8 195.0 200.4 195.9 200.0 194.4 199.6 194.8 199.2 194.5 198.8 194.2 198.4 194.8 198.0 194.7 197.6 192.9 197.2 190.4 196.8 189.0 196.4 187.4 196.0 186.3 195.6 185.5 195.2 184.0 194.8 183.4 194.4 182.2 194.0 183.1 193.6 185.4 193.2 187.4 192.8 186.5 192.4 189.9 192.0 188.5 191.6 191.5 191.2 190.7 190.8 192.8 190.4 193.4 190.0 192.7 189.6 193.2 189.2 192.5 188.8 194.8 188.4 192.5 188.0 192.0 187.6 193.6 187.2 192.5 186.8 191.3 186.4 193.5 186.0 190.5 185.6 191.3 185.2 192.4 184.8 191.3 184.4 192.0 184.0 189.7 183.6 191.2 183.2 188.6 182.8 189.0 182.4 190.6 182.0 189.0 181.6 188.1 181.2 189.7 180.8 189.8 180.4 188.9 180.0 189.1 179.6 188.5 179.2 187.1 178.8 185.7 178.4 186.2 178.0 187.0 177.6 186.7 177.2 185.6 176.8 186.7 176.4 185.4 176.0 185.2 175.6 184.6 175.2 184.5 174.8 183.6 174.4 184.1 174.0 183.8 173.6 181.9 173.2 182.7 172.8 183.4 172.4 182.4 172.0 182.2 171.6 181.8 171.2 182.5 170.8 180.1 170.4 181.8 170.0 179.8 169.6 180.6 169.2 180.2 168.8 180.1 168.4 179.6 168.0 179.8Z" fill="#0072BD" stroke="none"/>
<path d="M33.4 264.2 44.4 262.8 51.2 262.4 60.3 263.5 69.4 264.7 78.6 266.5 82.0 265.1 85.4 267.0 90.0 270.4 93.4 272.0 97.2 277.2 100.2 273.8 103.6 274.9 107.0 273.8 110.4 273.8 112.7 278.8 115.0 276.5 118.4 277.2 120.7 275.6 123.0 279.5 125.3 278.3 128.7 281.8 131.0 277.2 133.0 276.5 135.0 279.0 137.0 278.0 139.4 280.2 139.9 286.0 140.4 281.2 140.8 281.0 141.3 282.1 141.8 282.9 142.2 279.4 142.7 284.3 143.1 279.7 143.5 281.2 143.9 285.4 144.3 280.1 144.8 285.1 145.2 281.9 145.6 285.0 145.9 279.4 146.3 283.5 146.7 280.7 147.1 286.7 147.4 281.9 147.8 286.7 148.2 288.4 148.5 282.5 148.9 279.8 149.2 282.1 149.5 281.2 149.9 281.7 150.2 283.1 150.5 287.4 150.9 283.2 151.2 285.8 151.5 283.4 151.8 284.5 152.1 283.7 152.4 286.0 152.7 282.6 153.0 284.3 153.3 284.0 153.6 288.3 153.9 284.1 154.2 283.8 154.4 280.7 154.7 283.8 155.0 287.6 155.3 285.7 155.5 285.5 155.8 283.2 156.1 281.4 156.3 280.9 156.6 281.4 156.8 281.7 157.1 282.4 157.4 281.7 157.6 292.8 157.9 284.9 158.1 284.3 158.3 283.8 158.6 284.3 158.8 284.3 159.1 281.9 159.3 290.0 159.5 285.1 159.7 281.6 160.0 292.6 160.2 289.6 160.4 282.8 160.6 281.8 160.9 293.5 161.1 292.9 161.3 283.3 161.5 284.3 161.7 285.5 161.9 285.1 162.2 283.9 162.4 283.6 162.6 299.5 162.8 291.4 163.0 283.8 163.2 281.7 163.4 283.5 163.6 286.6 163.8 287.3 164.0 287.2 164.2 295.6 164.4 284.2 164.6 288.2 164.8 285.5 165.0 286.0 165.2 287.5 165.4 285.0 165.6 286.6 165.8 288.7 166.0 283.5 166.2 289.6 166.4 290.1 166.6 288.6 166.8 286.6 167.0 284.5 167.2 287.9 167.4 289.0 167.6 285.5 167.8 288.8 168.0 286.5 168.2 288.9 168.4 283.9 168.6 289.9 168.8 289.3 169.0 288.5 169.2 288.3 169.4 285.3 169.6 285.7 169.8 284.8 170.0 286.7 170.2 292.7 170.4 285.1 170.6 289.5 170.8 289.9 171.0 287.9 171.2 282.5 171.4 288.4 171.6 288.5 171.8 284.0 172.0 282.6 172.2 288.4 172.4 291.7 172.6 285.3 172.8 285.4 173.0 289.0 173.2 285.4 173.4 288.7 173.6 289.7 173.8 287.0 174.0 286.0 174.2 288.0 174.4 285.4 174.6 298.7 174.8 288.0 175.0 289.0 175.2 294.5 175.4 284.6 175.6 292.3 175.8 291.2 176.0 285.1 176.2 300.0 176.4 284.5 176.6 289.7 176.8 284.6 177.0 292.6 177.2 286.8 177.4 284.4 177.6 291.8 177.8 293.0 178.0 287.2 178.2 298.0 178.4 286.9 178.6 284.5 178.8 289.1 179.0 289.9 179.2 293.7 179.4 291.1 179.6 284.9 179.8 295.4 180.0 292.5 180.2 290.4 180.4 296.6 180.6 290.9 180.8 292.7 181.0 294.0 181.2 289.0 181.4 288.9 181.6 288.7 181.8 287.2 182.0 289.1 182.2 285.2 182.4 295.6 182.6 292.5 182.8 295.9 183.0 291.4 183.2 287.5 183.4 285.7 183.6 289.7 183.8 293.8 184.0 291.4 184.2 289.2 184.4 291.9 184.6 287.4 184.8 285.0 185.0 290.3 185.2 289.1 185.4 287.0 185.6 290.4 185.8 293.7 186.0 285.8 186.2 285.0 186.4 300.4 186.6 288.1 186.8 291.2 187.0 298.2 187.2 294.6 187.4 294.4 187.6 288.5 187.8 293.8 188.0 301.5 188.2 293.8 188.4 288.0 188.6 290.7 188.8 289.4 189.0 291.1 189.2 294.6 189.4 302.7 189.6 292.9 189.8 299.6 190.0 293.6 190.2 290.0 190.4 292.3 190.6 291.3 190.8 290.0 191.0 293.0 191.2 292.6 191.4 287.6 191.6 290.5 191.8 292.1 192.0 291.0 192.2 291.8 192.4 293.1 192.6 287.4 192.8 294.5 193.0 286.9 193.2 287.9 193.4 287.0 193.6 293.4 193.8 287.8 194.0 281.4 194.2 284.6 194.4 282.8 194.6 277.9 194.8 279.2 195.0 278.2 195.2 282.5 195.4 279.9 195.6 287.0 195.8 292.8 196.0 287.9 196.2 292.1 196.4 290.8 196.6 291.7 196.8 287.6 197.0 291.8 197.2 293.2 197.4 310.3 197.6 292.0 197.8 294.6 198.0 291.3 198.2 290.8 198.4 292.3 198.6 298.5 198.8 292.0 199.0 292.2 199.2 290.7 199.4 286.7 199.6 294.4 199.8 292.6 200.0 298.7 200.2 289.2 200.4 295.1 200.6 288.9 200.8 289.3 201.0 294.8 201.2 288.0 201.4 292.0 201.6 292.7 201.8 291.5 202.0 287.3 202.2 292.1 202.4 292.2 202.6 294.3 202.8 288.8 203.0 292.0 203.2 293.7 203.4 295.8 203.6 295.5 203.8 288.9 204.0 289.2 204.2 286.4 204.4 287.8 204.6 290.4 204.8 289.3 205.0 290.1 205.2 289.2 205.4 289.3 205.6 296.3 205.8 289.1 206.0 294.2 206.2 295.1 206.4 287.8 206.6 303.3 206.8 292.0 207.0 293.7 207.2 289.4 207.4 291.1 207.6 288.0 207.8 287.6 208.0 290.8 208.2 299.8 208.4 290.6 208.6 298.0 208.8 286.3 209.0 288.5 209.2 294.2 209.4 296.1 209.6 290.3 209.8 289.7 210.0 286.2 210.2 291.0 210.4 297.6 210.6 290.1 210.8 300.2 211.0 288.6 211.2 289.7 211.4 289.5 211.6 288.5 211.8 291.5 212.0 287.4 212.2 290.9 212.4 292.2 212.6 293.3 212.8 293.7 213.0 303.4 213.2 296.7 213.4 289.4 213.6 295.4 213.8 290.8 214.0 289.6 214.2 290.4 214.4 292.0 214.6 294.2 214.8 294.7 215.0 296.2 215.2 290.8 215.4 290.5 215.6 287.5 215.8 294.0 216.0 287.8 216.2 288.0 216.4 294.5 216.6 287.3 216.8 291.1 217.0 287.0 217.2 289.7 217.4 294.0 217.6 294.7 217.8 292.0 218.0 292.3 218.2 302.0 218.4 288.7 218.6 291.9 218.8 292.5 219.0 290.0 219.2 295.2 219.4 296.0 219.6 291.5 219.8 295.3 220.0 294.1 220.2 299.8 220.4 300.8 220.6 293.8 220.8 292.0 221.0 287.4 221.2 291.0 221.4 293.1 221.6 293.2 221.8 295.4 222.0 292.5 222.2 287.2 222.4 297.8 222.6 292.9 222.8 290.6 223.0 289.8 223.2 291.7 223.4 291.0 223.6 287.6 223.8 288.2 224.0 295.2 224.2 291.9 224.4 286.3 224.6 292.0 224.8 296.3 225.0 289.8 225.2 300.6 225.4 297.1 225.6 291.8 225.8 294.9 226.0 290.3 226.2 290.2 226.4 294.3 226.6 289.8 226.8 290.9 227.0 290.4 227.2 292.7 227.4 293.0 227.6 298.4 227.8 292.6 228.0 287.3 228.2 288.5 228.4 300.7 228.6 299.9 228.8 295.0 229.0 290.5 229.2 293.0 229.4 297.8 229.6 293.1 229.8 291.7 230.0 290.1 230.2 293.3 230.4 291.0 230.6 290.7 230.8 291.3 231.0 301.4 231.2 290.4 231.4 297.8 231.6 300.8 231.8 292.6 232.0 304.9 232.2 299.8 232.4 293.5 232.6 292.7 232.8 298.5 233.0 287.4 233.2 289.0 233.4 292.5 233.6 291.6 233.8 294.4 234.0 286.4 234.2 298.1 234.4 294.6 234.6 295.8 234.8 288.8 235.0 292.3 235.2 293.3 235.4 293.5 235.6 288.5 235.8 295.3 236.0 289.7 236.2 290.5 236.4 292.9 236.6 293.8 236.8 293.1 237.0 292.9 237.2 294.5 237.4 291.3 237.6 293.3 237.8 294.6 238.0 289.9 238.2 292.9 238.4 292.7 238.6 288.7 238.8 292.9 239.0 293.8 239.2 288.4 239.4 286.7 239.6 289.7 239.8 293.5 240.0 290.9 240.2 290.2 240.4 294.8 240.6 290.4 240.8 287.5 241.0 291.0 241.2 290.9 241.4 293.1 241.6 291.0 241.8 295.9 242.0 289.9 242.2 292.1 242.4 286.6 242.6 294.2 242.8 290.5 243.0 305.1 243.2 293.4 243.4 290.0 243.6 295.3 243.8 291.4 244.0 296.0 244.2 293.6 244.4 286.4 244.6 296.4 244.8 288.2 245.0 300.8 245.2 291.7 245.4 289.4 245.6 289.2 245.8 293.7 246.0 291.7 246.2 290.5 246.4 290.1 246.6 290.2 246.8 291.8 247.0 295.5 247.2 290.6 247.4 292.0 247.6 292.1 247.8 286.4 248.0 297.9 248.2 289.9 248.4 294.5 248.6 290.4 248.8 287.5 249.0 295.2 249.2 291.9 249.4 292.3 249.6 292.6 249.8 297.1 250.0 291.4 250.2 288.6 250.4 291.0 250.6 320.5 250.8 289.6 251.0 293.4 251.2 297.7 251.4 291.6 251.6 293.0 251.8 292.3 252.0 286.4 252.2 291.9 252.4 287.5 252.6 294.2 252.8 290.1 253.0 300.1 253.2 294.9 253.4 290.8 253.6 290.8 253.8 289.4 254.0 293.9 254.2 295.3 254.4 294.2 254.6 292.3 254.8 304.1 255.0 294.0 255.2 291.1 255.4 297.7 255.6 294.8 255.8 288.9 256.0 288.0 256.2 295.7 256.4 297.0 256.6 298.5 256.8 299.7 257.0 289.8 257.2 290.4 257.4 295.5 257.6 292.8 257.8 290.8 258.0 303.7 258.2 289.6 258.4 289.1 258.6 296.4 258.8 290.7 259.0 290.8 259.2 294.5 259.4 288.8 259.6 296.3 259.8 293.0 260.0 294.8 260.2 293.3 260.4 289.7 260.6 292.0 260.8 291.6 261.0 286.5 261.2 296.2 261.4 296.2 261.6 291.6 261.8 297.7 262.0 287.3 262.2 294.5 262.4 293.3 262.6 293.4 262.8 289.5 263.0 288.3 263.2 291.0 263.4 297.2 263.6 294.3 263.8 290.8 264.0 296.4 264.2 288.8 264.4 289.0 264.6 296.2 264.8 294.2 265.0 296.2 265.2 290.7 265.4 302.0 265.6 290.9 265.8 301.0 266.0 289.4 266.2 292.3 266.4 292.0 266.6 299.5 266.8 302.2 267.0 294.4 267.2 286.5" stroke="#D95319" stroke-width="1.3" fill="none" stroke-linejoin="round"/>
<path d="M190.0 288.2 190.4 287.1 190.8 287.1 191.2 287.5 191.6 288.6 192.0 288.0 192.4 287.9 192.8 288.1 193.2 287.5 193.6 286.2 194.0 283.3 194.4 279.2 194.8 278.6 195.2 279.9 195.6 284.8 196.0 287.3 196.4 288.9 196.8 288.6 197.2 288.9 197.6 289.0 198.0 289.6 198.4 288.3 198.8 288.5 199.2 289.6 199.6 288.4 200.0 289.8 200.4 289.3 200.8 289.5 201.2 288.7 201.6 289.8 202.0 289.9 202.4 288.0 202.8 290.0 203.2 289.0 203.6 289.8 204.0 290.1 204.4 290.1 204.8 288.2 205.2 289.3 205.6 289.1 206.0 288.8 206.4 289.2 206.8 288.2 207.2 289.9 207.6 288.3 208.0 289.1 208.4 289.2 208.8 287.9 209.2 289.4 209.6 288.0 210.0 288.6 210.4 289.1 210.8 289.3 211.2 289.7 211.6 289.6 212.0 288.0 212.4 288.2 212.8 288.0 213.2 289.0 213.6 288.6 214.0 289.8 214.4 289.4 214.8 290.0 215.2 289.2 215.6 289.8 216.0 289.5 216.4 289.0 216.8 288.5 217.2 290.0 217.6 288.1 218.0 288.5 218.4 289.9 218.8 290.2 219.2 289.4 219.6 289.6 220.0 288.1 220.4 288.8 220.8 288.1 221.2 290.2 221.6 288.7 222.0 289.3 222.4 288.4 222.8 289.1 223.2 289.3 223.6 288.4 224.0 288.2 224.4 288.1 224.8 289.1 225.2 289.4 225.6 289.7 226.0 288.1 226.4 288.3 226.8 288.1 227.2 290.0 227.6 288.2 228.0 290.0 228.4 290.1 228.8 288.3 229.2 288.5 229.6 288.5 230.0 288.4 230.4 289.3 230.8 288.4 231.2 289.2 231.6 289.1 232.0 289.5 232.4 288.8 232.8 290.1 233.2 289.0 233.6 290.2 234.0 288.9 234.4 288.9 234.8 290.2 235.2 288.7 235.6 289.8 236.0 289.7 236.4 288.5 236.8 290.1 237.2 288.3 237.6 289.8 238.0 288.9 238.4 290.3 238.8 289.4 239.2 290.4 239.6 289.6 240.0 288.4 240.4 289.4 240.8 289.9 241.2 289.6 241.6 288.9 242.0 288.6 242.4 290.1 242.8 288.7 243.2 289.7 243.6 290.1 244.0 289.4 244.4 288.1 244.8 288.1 245.2 288.8 245.6 289.6 246.0 289.8 246.4 289.3 246.8 290.2 247.2 289.1 247.6 289.1 248.0 289.9 248.4 289.8 248.8 290.0 249.2 288.6 249.6 288.5 250.0 289.1 250.4 289.9 250.8 289.8 251.2 288.3 251.6 288.3 252.0 290.1 252.4 289.5 252.8 289.1 253.2 289.7 253.6 288.7 254.0 288.6 254.4 289.5 254.8 289.6 255.2 289.0 255.6 289.8 256.0 290.3 256.4 289.6 256.8 289.8 257.2 288.9 257.6 289.7 258.0 288.3 258.4 288.9 258.8 289.4 259.2 288.4 259.6 289.7 260.0 290.6 260.4 288.9 260.8 289.5 261.2 289.2 261.6 289.4 262.0 289.4 262.4 290.7 262.8 289.2 263.2 289.9 263.6 288.6 264.0 289.7 264.4 289.3 264.8 289.2 265.2 288.8 265.6 290.4 266.0 288.6 266.4 290.4 266.8 288.5 267.2 288.8 267.2 297.7 266.8 298.5 266.4 298.7 266.0 296.7 265.6 297.8 265.2 296.3 264.8 299.1 264.4 297.2 264.0 298.7 263.6 297.6 263.2 296.7 262.8 296.5 262.4 296.4 262.0 297.4 261.6 297.5 261.2 299.1 260.8 298.8 260.4 297.7 260.0 298.7 259.6 298.4 259.2 296.6 258.8 297.8 258.4 298.1 258.0 297.7 257.6 297.6 257.2 298.6 256.8 299.2 256.4 298.9 256.0 297.9 255.6 298.4 255.2 296.5 254.8 298.7 254.4 296.5 254.0 296.3 253.6 296.2 253.2 296.2 252.8 296.4 252.4 298.8 252.0 298.2 251.6 297.5 251.2 296.4 250.8 299.1 250.4 297.9 250.0 296.6 249.6 296.2 249.2 298.0 248.8 299.1 248.4 296.5 248.0 297.5 247.6 297.0 247.2 297.0 246.8 298.9 246.4 298.3 246.0 296.7 245.6 296.2 245.2 299.1 244.8 297.0 244.4 296.0 244.0 297.0 243.6 296.6 243.2 296.5 242.8 297.1 242.4 299.0 242.0 297.3 241.6 297.8 241.2 296.8 240.8 296.1 240.4 296.3 240.0 297.2 239.6 298.9 239.2 298.5 238.8 298.7 238.4 298.7 238.0 297.8 237.6 298.6 237.2 298.9 236.8 298.2 236.4 297.1 236.0 298.7 235.6 298.3 235.2 296.7 234.8 296.0 234.4 298.0 234.0 298.0 233.6 296.2 233.2 297.5 232.8 297.6 232.4 295.8 232.0 296.4 231.6 295.9 231.2 297.0 230.8 297.5 230.4 296.9 230.0 296.3 229.6 297.7 229.2 296.1 228.8 296.6 228.4 295.9 228.0 297.6 227.6 295.9 227.2 296.9 226.8 295.8 226.4 296.2 226.0 298.2 225.6 297.9 225.2 298.0 224.8 298.3 224.4 296.3 224.0 298.3 223.6 297.9 223.2 296.4 222.8 298.0 222.4 297.2 222.0 298.5 221.6 296.1 221.2 296.8 220.8 295.7 220.4 297.2 220.0 297.1 219.6 297.1 219.2 296.8 218.8 297.6 218.4 297.7 218.0 296.5 217.6 296.1 217.2 297.6 216.8 296.4 216.4 298.5 216.0 296.1 215.6 296.3 215.2 296.7 214.8 295.7 214.4 297.4 214.0 296.1 213.6 296.3 213.2 298.4 212.8 296.0 212.4 296.1 212.0 297.9 211.6 295.7 211.2 297.7 210.8 296.3 210.4 295.8 210.0 298.4 209.6 297.8 209.2 296.1 208.8 296.1 208.4 297.4 208.0 296.5 207.6 296.8 207.2 297.5 206.8 296.8 206.4 297.2 206.0 297.7 205.6 298.2 205.2 295.7 204.8 296.5 204.4 295.1 204.0 295.1 203.6 296.2 203.2 295.4 202.8 295.8 202.4 294.7 202.0 296.3 201.6 296.5 201.2 295.0 200.8 294.5 200.4 295.0 200.0 295.2 199.6 293.0 199.2 294.1 198.8 292.1 198.4 291.9 198.0 294.3 197.6 293.0 197.2 292.6 196.8 292.1 196.4 291.8 196.0 290.7 195.6 287.6 195.2 282.0 194.8 280.3 194.4 280.9 194.0 286.1 193.6 287.2 193.2 289.1 192.8 289.4 192.4 289.8 192.0 289.3 191.6 289.7 191.2 288.2 190.8 289.1 190.4 287.1 190.0 289.0Z" fill="#D95319" stroke="none"/>
<path d="M312.6 24.1 321.1 24.5 332.5 24.4 337.0 23.2 341.6 21.6 344.4 21.1 349.5 20.8 352.0 21.5 354.5 23.0 358.2 27.4 361.1 31.0 363.3 31.3 366.9 28.8 370.5 27.4 374.2 28.8 377.8 30.3 380.7 29.5 383.6 31.0 386.5 30.3 390.2 33.2 392.4 34.6 394.5 33.2 397.5 35.4 399.6 34.6 401.8 38.3 403.3 36.8 404.7 41.9 406.2 37.5 408.4 40.5 410.5 38.3 412.7 41.2 414.9 39.7 417.1 42.6 420.0 41.9 423.0 43.0 426.0 42.5 429.6 44.6 433.0 44.0 436.4 46.4 441.0 47.6 441.2 51.5 441.4 46.3 441.6 48.9 441.8 50.3 442.1 47.2 442.3 50.9 442.5 52.6 442.7 47.9 442.9 48.7 443.1 46.8 443.3 47.5 443.5 50.5 443.7 53.0 443.9 48.4 444.1 49.1 444.3 50.1 444.5 47.0 444.7 50.9 444.9 48.6 445.1 53.0 445.3 47.1 445.5 46.9 445.7 48.9 445.9 50.6 446.1 61.0 446.3 47.5 446.5 48.2 446.7 54.9 446.9 49.8 447.1 52.8 447.3 49.7 447.5 47.3 447.7 48.1 447.9 51.9 448.1 50.0 448.3 51.5 448.5 53.0 448.7 49.1 448.9 49.0 449.1 51.6 449.3 51.1 449.5 49.6 449.7 49.4 449.9 51.0 450.1 54.5 450.3 55.1 450.5 53.9 450.7 49.0 450.9 51.2 451.1 50.3 451.3 52.2 451.5 52.3 451.7 54.3 451.9 47.6 452.1 50.8 452.3 55.4 452.5 50.3 452.7 51.1 452.9 51.0 453.1 50.0 453.3 51.2 453.5 49.2 453.7 48.0 453.9 52.8 454.1 51.1 454.3 53.2 454.5 53.0 454.7 53.4 454.9 51.4 455.1 53.7 455.3 53.7 455.5 49.9 455.7 50.3 455.9 51.3 456.1 50.0 456.3 53.5 456.5 51.6 456.7 55.0 456.9 54.3 457.1 57.7 457.3 50.5 457.5 49.3 457.7 54.6 457.9 53.8 458.1 57.5 458.3 57.0 458.5 51.9 458.7 49.8 458.9 58.6 459.1 55.3 459.3 51.0 459.5 55.8 459.7 50.0 459.9 54.4 460.1 53.3 460.3 56.3 460.5 55.1 460.7 53.8 460.9 55.3 461.1 51.5 461.3 62.0 461.5 52.2 461.7 50.9 461.9 54.9 462.1 56.7 462.3 58.2 462.5 59.5 462.7 51.1 462.9 52.6 463.1 64.4 463.3 53.9 463.5 52.8 463.7 55.3 463.9 62.2 464.1 54.3 464.3 55.0 464.5 48.9 464.7 55.0 464.9 49.9 465.1 50.6 465.3 53.2 465.5 58.6 465.7 51.3 465.9 59.7 466.1 53.4 466.3 59.6 466.5 59.8 466.7 54.8 466.9 58.2 467.1 48.6 467.3 53.4 467.5 50.5 467.7 49.5 467.9 52.0 468.1 52.9 468.3 54.4 468.5 51.8 468.7 52.8 468.9 58.5 469.1 54.0 469.3 55.1 469.5 54.2 469.7 52.5 469.9 52.8 470.1 53.8 470.3 51.9 470.5 51.6 470.7 60.6 470.9 59.1 471.1 62.8 471.3 58.9 471.5 49.8 471.7 56.6 471.9 55.2 472.1 55.0 472.3 54.1 472.5 57.1 472.7 52.3 472.9 56.5 473.1 51.6 473.3 52.1 473.5 67.7 473.7 54.4 473.9 61.2 474.1 51.3 474.3 62.2 474.5 57.6 474.7 52.6 474.9 54.2 475.1 53.5 475.3 55.9 475.5 54.9 475.7 58.8 475.9 55.5 476.1 57.9 476.3 53.6 476.5 61.1 476.7 60.1 476.9 58.7 477.1 54.6 477.3 53.9 477.5 66.0 477.7 48.8 477.9 50.7 478.1 53.2 478.3 54.3 478.5 49.3 478.7 47.8 478.9 51.8 479.1 49.0 479.3 49.0 479.5 48.5 479.7 53.6 479.9 56.1 480.1 56.5 480.3 56.5 480.5 50.9 480.7 51.0 480.9 55.5 481.1 60.9 481.3 57.2 481.5 58.8 481.7 54.3 481.9 53.6 482.1 53.1 482.3 56.4 482.5 56.2 482.7 56.1 482.9 57.2 483.1 56.2 483.3 54.0 483.5 53.8 483.7 57.7 483.9 55.1 484.1 61.0 484.3 65.2 484.5 57.0 484.7 57.3 484.9 66.4 485.1 63.2 485.3 56.6 485.5 50.9 485.7 52.4 485.9 66.7 486.1 57.9 486.3 57.2 486.5 58.0 486.7 61.2 486.9 54.9 487.1 52.4 487.3 57.1 487.5 60.2 487.7 62.2 487.9 69.1 488.1 53.2 488.3 59.2 488.5 53.6 488.7 53.0 488.9 63.1 489.1 60.0 489.3 57.9 489.5 53.2 489.7 53.5 489.9 58.1 490.1 56.3 490.3 57.4 490.5 56.1 490.7 52.9 490.9 58.7 491.1 52.8 491.3 51.3 491.5 54.8 491.7 50.5 491.9 51.0 492.1 60.4 492.3 49.5 492.5 59.8 492.7 52.8 492.9 61.7 493.1 58.1 493.3 56.4 493.5 52.4 493.7 54.1 493.9 59.7 494.1 51.6 494.3 52.1 494.5 55.7 494.7 65.0 494.9 58.4 495.1 58.3 495.3 56.7 495.5 50.9 495.7 54.9 495.9 52.7 496.1 63.7 496.3 59.0 496.5 53.6 496.7 57.6 496.9 59.3 497.1 64.2 497.3 65.0 497.5 56.8 497.7 55.4 497.9 56.9 498.1 55.2 498.3 58.3 498.5 69.0 498.7 54.2 498.9 57.7 499.1 55.9 499.3 57.2 499.5 58.7 499.7 64.9 499.9 58.3 500.1 58.2 500.3 62.0 500.5 67.0 500.7 56.1 500.9 68.5 501.1 51.9 501.3 57.4 501.5 56.5 501.7 55.6 501.9 67.7 502.1 62.5 502.3 53.1 502.5 55.3 502.7 55.9 502.9 57.6 503.1 53.4 503.3 55.9 503.5 53.0 503.7 52.5 503.9 51.7 504.1 53.7 504.3 54.2 504.5 56.3 504.7 55.6 504.9 55.1 505.1 55.6 505.3 52.7 505.5 52.2 505.7 65.0 505.9 53.4 506.1 54.7 506.3 54.9 506.5 51.5 506.7 65.2 506.9 56.2 507.1 57.3 507.3 50.7 507.5 60.7 507.7 55.3 507.9 61.2 508.1 53.4 508.3 56.0 508.5 53.6 508.7 58.2 508.9 51.9 509.1 70.2 509.3 59.5 509.5 53.6 509.7 51.9 509.9 53.2 510.1 58.7 510.3 63.4 510.5 53.9 510.7 53.6 510.9 64.5 511.1 51.0 511.3 55.6 511.5 66.7 511.7 56.1 511.9 57.8 512.1 62.5 512.3 51.9 512.5 51.0 512.7 61.9 512.9 56.5 513.1 58.7 513.3 54.2 513.5 62.3 513.7 57.9 513.9 56.9 514.1 56.2 514.3 56.6 514.5 55.0 514.7 50.9 514.9 51.1 515.1 51.5 515.3 52.6 515.5 59.5 515.7 59.2 515.9 56.4 516.1 54.5 516.3 54.9 516.5 57.7 516.7 49.5 516.9 58.2 517.1 68.8 517.3 63.1 517.5 59.8 517.7 53.7 517.9 52.5 518.1 66.0 518.3 59.3 518.5 59.3 518.7 53.1 518.9 51.7 519.1 58.9 519.3 62.7 519.5 50.2 519.7 50.1 519.9 53.8 520.1 56.3 520.3 53.5 520.5 53.3 520.7 55.9 520.9 58.8 521.1 55.7 521.3 54.4 521.5 58.0 521.7 54.6 521.9 61.3 522.1 50.1 522.3 59.8 522.5 59.6 522.7 50.4 522.9 50.7 523.1 51.2 523.3 52.5 523.5 52.4 523.7 52.7 523.9 55.3 524.1 63.9 524.3 53.7 524.5 52.5 524.7 52.5 524.9 65.9 525.1 64.7 525.3 53.7 525.5 56.1 525.7 51.7 525.9 49.5 526.1 56.6 526.3 54.2 526.5 54.3 526.7 54.1 526.9 57.5 527.1 96.2 527.3 64.3 527.5 51.6 527.7 53.8 527.9 52.9 528.1 56.4 528.3 60.0 528.5 56.5 528.7 54.2 528.9 55.5 529.1 62.5 529.3 70.6 529.5 57.2 529.7 59.3 529.9 59.6 530.1 59.7 530.3 56.9 530.5 54.1 530.7 51.4 530.9 54.2 531.1 68.8 531.3 52.1 531.5 54.9 531.7 53.7 531.9 54.9 532.1 57.7 532.3 57.9 532.5 64.2 532.7 54.4 532.9 65.2 533.1 54.2 533.3 51.5 533.5 54.3 533.7 55.0 533.9 52.9 534.1 50.4 534.3 52.8 534.5 49.5 534.7 56.5 534.9 70.1 535.1 54.9 535.3 54.6 535.5 52.2 535.7 54.9 535.9 57.6 536.1 70.7 536.3 52.6 536.5 54.8 536.7 49.5 536.9 55.1 537.1 52.3 537.3 53.3 537.5 49.5 537.7 56.5 537.9 51.7 538.1 57.2 538.3 70.8 538.5 58.1 538.7 57.8 538.9 49.5 539.1 57.2 539.3 58.9 539.5 54.1 539.7 63.1 539.9 58.4 540.1 57.3 540.3 62.1 540.5 55.1 540.7 56.9 540.9 53.0 541.1 58.0 541.3 49.8 541.5 60.3 541.7 55.8 541.9 59.7 542.1 70.3 542.3 58.5 542.5 51.7 542.7 58.7 542.9 56.2 543.1 55.8 543.3 59.1 543.5 55.7 543.7 64.7 543.9 57.9 544.1 58.8 544.3 52.8 544.5 53.3 544.7 54.1 544.9 55.1 545.1 52.2 545.3 53.6 545.5 65.3 545.7 62.0 545.9 53.6 546.1 52.5 546.3 49.5 546.5 53.3 546.7 61.3" stroke="#7E2F8E" stroke-width="1.3" fill="none" stroke-linejoin="round"/>
<path d="M452.0 49.4 452.4 49.6 452.8 50.3 453.2 49.2 453.6 49.5 454.0 50.1 454.4 49.4 454.8 50.1 455.2 50.3 455.6 50.9 456.0 50.9 456.4 50.7 456.8 50.3 457.2 49.5 457.6 49.6 458.0 50.3 458.4 50.9 458.8 51.1 459.2 50.4 459.6 49.6 460.0 49.6 460.4 51.3 460.8 49.8 461.2 51.0 461.6 51.2 462.0 50.5 462.4 50.3 462.8 51.5 463.2 51.3 463.6 50.2 464.0 51.8 464.4 51.9 464.8 50.1 465.2 50.1 465.6 51.3 466.0 50.7 466.4 50.6 466.8 50.2 467.2 51.0 467.6 52.2 468.0 52.0 468.4 50.5 468.8 51.6 469.2 50.4 469.6 50.9 470.0 52.2 470.4 51.0 470.8 52.6 471.2 52.5 471.6 50.7 472.0 52.6 472.4 51.3 472.8 52.6 473.2 50.9 473.6 51.2 474.0 52.1 474.4 51.0 474.8 51.0 475.2 52.7 475.6 52.8 476.0 51.8 476.4 51.0 476.8 52.1 477.2 53.0 477.6 50.9 478.0 51.0 478.4 50.5 478.8 50.4 479.2 48.9 479.6 51.5 480.0 52.1 480.4 53.0 480.8 52.8 481.2 51.7 481.6 51.6 482.0 53.2 482.4 52.4 482.8 52.8 483.2 51.6 483.6 52.8 484.0 53.3 484.4 52.0 484.8 52.5 485.2 53.4 485.6 53.2 486.0 53.5 486.4 53.3 486.8 51.8 487.2 51.4 487.6 52.4 488.0 52.0 488.4 53.4 488.8 53.1 489.2 53.5 489.6 52.8 490.0 52.9 490.4 52.5 490.8 52.7 491.2 52.4 491.6 52.3 492.0 53.1 492.4 52.4 492.8 51.4 493.2 52.7 493.6 51.7 494.0 51.5 494.4 51.5 494.8 51.6 495.2 52.8 495.6 52.7 496.0 52.0 496.4 52.7 496.8 52.9 497.2 51.8 497.6 53.4 498.0 52.8 498.4 51.4 498.8 52.3 499.2 51.8 499.6 51.4 500.0 53.3 500.4 51.7 500.8 52.7 501.2 52.8 501.6 53.1 502.0 52.8 502.4 53.2 502.8 53.4 503.2 53.5 503.6 53.7 504.0 51.9 504.4 52.1 504.8 51.4 505.2 51.9 505.6 53.2 506.0 53.2 506.4 52.2 506.8 53.4 507.2 53.7 507.6 53.6 508.0 52.8 508.4 52.3 508.8 51.9 509.2 53.4 509.6 51.9 510.0 52.2 510.4 53.4 510.8 52.6 511.2 52.7 511.6 52.7 512.0 51.9 512.4 52.4 512.8 53.7 513.2 52.7 513.6 52.4 514.0 53.3 514.4 51.9 514.8 51.8 515.2 51.5 515.6 51.8 516.0 52.8 516.4 52.5 516.8 52.1 517.2 53.0 517.6 53.1 518.0 53.7 518.4 52.7 518.8 52.0 519.2 52.4 519.6 53.1 520.0 53.7 520.4 52.6 520.8 52.9 521.2 51.5 521.6 52.8 522.0 52.9 522.4 52.4 522.8 52.8 523.2 52.7 523.6 52.7 524.0 53.0 524.4 52.4 524.8 52.5 525.2 52.6 525.6 51.7 526.0 51.8 526.4 51.8 526.8 53.8 527.2 53.5 527.6 53.8 528.0 52.5 528.4 52.5 528.8 52.2 529.2 53.5 529.6 52.7 530.0 52.7 530.4 52.8 530.8 53.7 531.2 52.0 531.6 53.5 532.0 53.0 532.4 52.1 532.8 51.9 533.2 52.4 533.6 52.0 534.0 52.5 534.4 53.4 534.8 53.8 535.2 52.2 535.6 53.1 536.0 53.1 536.4 53.5 536.8 53.5 537.2 52.4 537.6 52.7 538.0 52.8 538.4 53.2 538.8 53.8 539.2 51.5 539.6 52.0 540.0 51.8 540.4 53.5 540.8 51.8 541.2 51.5 541.6 52.6 542.0 53.0 542.4 52.8 542.8 53.1 543.2 52.3 543.6 51.6 544.0 52.6 544.4 52.6 544.8 52.0 545.2 51.6 545.6 51.8 546.0 53.1 546.4 53.1 546.4 64.4 546.0 63.2 545.6 64.1 545.2 63.2 544.8 64.4 544.4 65.1 544.0 63.1 543.6 65.5 543.2 64.0 542.8 63.2 542.4 65.4 542.0 65.2 541.6 65.6 541.2 63.4 540.8 62.4 540.4 62.4 540.0 64.0 539.6 62.4 539.2 65.1 538.8 62.4 538.4 62.6 538.0 65.5 537.6 64.2 537.2 64.2 536.8 63.8 536.4 63.2 536.0 63.1 535.6 63.8 535.2 63.1 534.8 64.1 534.4 63.1 534.0 64.9 533.6 64.3 533.2 64.3 532.8 63.7 532.4 62.8 532.0 63.9 531.6 62.4 531.2 64.1 530.8 64.2 530.4 63.3 530.0 64.9 529.6 63.8 529.2 62.6 528.8 63.7 528.4 62.8 528.0 64.3 527.6 65.2 527.2 62.2 526.8 62.5 526.4 63.9 526.0 64.6 525.6 65.1 525.2 63.4 524.8 62.7 524.4 65.4 524.0 64.5 523.6 62.5 523.2 64.4 522.8 64.3 522.4 64.6 522.0 64.7 521.6 64.5 521.2 62.2 520.8 63.4 520.4 65.4 520.0 65.4 519.6 62.7 519.2 64.5 518.8 63.3 518.4 64.6 518.0 64.1 517.6 64.0 517.2 62.8 516.8 63.6 516.4 64.1 516.0 64.1 515.6 64.2 515.2 63.8 514.8 62.7 514.4 63.0 514.0 62.3 513.6 62.6 513.2 63.7 512.8 63.0 512.4 65.0 512.0 62.4 511.6 63.8 511.2 64.2 510.8 64.0 510.4 63.8 510.0 63.4 509.6 62.1 509.2 64.4 508.8 64.1 508.4 63.9 508.0 63.0 507.6 64.0 507.2 64.0 506.8 64.7 506.4 65.0 506.0 62.9 505.6 62.4 505.2 62.3 504.8 63.9 504.4 62.3 504.0 64.1 503.6 63.8 503.2 63.1 502.8 64.1 502.4 62.8 502.0 62.9 501.6 62.8 501.2 64.9 500.8 62.7 500.4 62.0 500.0 64.7 499.6 62.0 499.2 62.6 498.8 64.9 498.4 63.7 498.0 62.7 497.6 64.9 497.2 63.3 496.8 62.0 496.4 64.0 496.0 64.6 495.6 62.4 495.2 64.7 494.8 64.5 494.4 63.2 494.0 62.2 493.6 63.3 493.2 63.1 492.8 64.4 492.4 63.2 492.0 64.6 491.6 64.4 491.2 62.1 490.8 62.0 490.4 62.3 490.0 64.9 489.6 62.0 489.2 62.7 488.8 64.6 488.4 64.9 488.0 63.2 487.6 64.9 487.2 64.2 486.8 62.9 486.4 64.3 486.0 64.4 485.6 63.3 485.2 63.9 484.8 61.8 484.4 62.2 484.0 62.2 483.6 64.3 483.2 63.6 482.8 62.1 482.4 62.1 482.0 63.6 481.6 61.9 481.2 61.5 480.8 64.3 480.4 61.4 480.0 61.5 479.6 62.1 479.2 59.3 478.8 60.1 478.4 59.5 478.0 60.7 477.6 61.0 477.2 62.8 476.8 63.0 476.4 62.5 476.0 63.1 475.6 61.4 475.2 61.4 474.8 61.9 474.4 62.1 474.0 62.3 473.6 61.6 473.2 61.3 472.8 61.2 472.4 60.2 472.0 60.2 471.6 61.0 471.2 61.4 470.8 62.4 470.4 60.2 470.0 61.7 469.6 61.5 469.2 61.5 468.8 61.9 468.4 59.4 468.0 60.8 467.6 60.1 467.2 60.2 466.8 60.3 466.4 59.0 466.0 58.9 465.6 60.6 465.2 59.3 464.8 57.8 464.4 58.6 464.0 58.8 463.6 56.5 463.2 57.1 462.8 56.8 462.4 56.3 462.0 56.6 461.6 56.5 461.2 55.5 460.8 56.2 460.4 55.8 460.0 55.1 459.6 55.3 459.2 54.4 458.8 55.0 458.4 52.8 458.0 52.4 457.6 53.9 457.2 54.2 456.8 51.8 456.4 51.6 456.0 51.7 455.6 53.0 455.2 52.7 454.8 51.0 454.4 50.7 454.0 50.3 453.6 49.5 453.2 51.3 452.8 50.3 452.4 49.6 452.0 49.6Z" fill="#7E2F8E" stroke="none"/>
<path d="M312.6 181.0 330.0 181.0 337.3 182.2 342.7 184.4 350.0 188.3 352.5 186.0 355.5 183.2 358.0 181.0 360.9 179.6 363.0 180.0 365.5 181.4 368.2 184.1 370.9 183.2 373.6 185.0 377.3 184.5 380.0 179.8 382.7 176.9 384.0 177.3 385.5 178.6 388.2 185.0 390.0 186.8 392.7 181.4 394.5 180.5 396.4 189.5 398.2 185.0 400.9 181.4 402.7 183.2 404.5 180.5 407.3 191.4 410.0 184.1 413.6 178.6 416.4 185.0 419.1 182.3 420.9 185.9 422.7 183.2 424.5 188.6 426.4 185.0 428.2 190.5 430.0 187.1 430.3 185.7 430.6 188.9 431.0 185.8 431.3 188.6 431.6 188.5 431.9 190.4 432.2 191.7 432.5 188.2 432.8 191.6 433.1 193.5 433.4 192.2 433.7 189.0 433.9 191.1 434.2 190.6 434.5 188.3 434.8 189.8 435.0 192.0 435.3 188.9 435.6 186.8 435.8 189.3 436.1 190.2 436.4 189.9 436.6 189.2 436.9 188.5 437.1 188.9 437.4 191.9 437.6 189.0 437.9 193.9 438.1 193.6 438.3 190.6 438.6 193.0 438.8 190.5 439.1 192.3 439.3 188.3 439.5 191.4 439.7 189.4 440.0 188.4 440.2 191.6 440.4 189.9 440.6 191.5 440.8 192.1 441.1 194.9 441.3 190.7 441.5 189.0 441.7 190.7 441.9 193.1 442.1 191.8 442.3 192.9 442.5 192.7 442.7 190.5 442.9 200.8 443.1 192.3 443.3 192.2 443.5 195.6 443.7 191.0 443.9 194.4 444.1 193.2 444.3 194.6 444.5 192.1 444.7 193.2 444.9 191.7 445.1 193.4 445.3 191.1 445.5 192.7 445.7 197.3 445.9 193.2 446.1 195.2 446.3 194.9 446.5 189.9 446.7 193.5 446.9 191.9 447.1 196.9 447.3 192.7 447.5 197.8 447.7 196.2 447.9 197.8 448.1 202.1 448.3 190.8 448.5 190.0 448.7 195.1 448.9 204.2 449.1 192.5 449.3 193.1 449.5 201.3 449.7 192.4 449.9 200.4 450.1 197.0 450.3 192.5 450.5 192.6 450.7 197.1 450.9 194.5 451.1 192.4 451.3 193.9 451.5 194.5 451.7 197.9 451.9 200.7 452.1 197.9 452.3 194.6 452.5 194.1 452.7 195.1 452.9 193.9 453.1 194.4 453.3 193.8 453.5 195.7 453.7 192.4 453.9 194.8 454.1 192.1 454.3 190.3 454.5 192.6 454.7 193.1 454.9 193.7 455.1 194.8 455.3 197.6 455.5 200.2 455.7 194.1 455.9 197.6 456.1 194.5 456.3 194.9 456.5 194.6 456.7 195.9 456.9 197.9 457.1 197.2 457.3 194.0 457.5 192.4 457.7 197.1 457.9 197.2 458.1 196.0 458.3 196.2 458.5 194.6 458.7 193.7 458.9 193.7 459.1 193.3 459.3 194.0 459.5 191.3 459.7 196.2 459.9 196.2 460.1 194.7 460.3 197.5 460.5 193.3 460.7 196.6 460.9 195.5 461.1 195.8 461.3 197.2 461.5 207.0 461.7 198.1 461.9 196.3 462.1 192.1 462.3 200.4 462.5 192.8 462.7 191.7 462.9 194.0 463.1 198.3 463.3 206.1 463.5 193.2 463.7 202.6 463.9 198.2 464.1 192.5 464.3 195.1 464.5 193.9 464.7 193.8 464.9 200.0 465.1 196.5 465.3 202.0 465.5 197.6 465.7 196.6 465.9 194.1 466.1 198.6 466.3 195.4 466.5 201.0 466.7 199.1 466.9 203.6 467.1 196.2 467.3 196.2 467.5 195.2 467.7 197.6 467.9 193.0 468.1 195.2 468.3 196.4 468.5 193.9 468.7 200.6 468.9 199.0 469.1 196.7 469.3 196.3 469.5 192.9 469.7 195.8 469.9 204.8 470.1 193.2 470.3 197.5 470.5 200.4 470.7 195.2 470.9 196.3 471.1 194.4 471.3 197.0 471.5 199.8 471.7 197.7 471.9 197.7 472.1 198.8 472.3 196.9 472.5 201.7 472.7 200.0 472.9 202.5 473.1 206.9 473.3 197.4 473.5 195.8 473.7 198.6 473.9 194.3 474.1 196.9 474.3 196.5 474.5 199.9 474.7 194.4 474.9 199.3 475.1 195.0 475.3 200.5 475.5 193.6 475.7 196.4 475.9 201.5 476.1 196.0 476.3 201.9 476.5 198.8 476.7 198.9 476.9 199.3 477.1 199.0 477.3 201.8 477.5 198.6 477.7 203.4 477.9 195.3 478.1 199.0 478.3 196.0 478.5 198.3 478.7 192.8 478.9 194.4 479.1 196.0 479.3 194.8 479.5 193.9 479.7 193.6 479.9 198.4 480.1 196.8 480.3 204.3 480.5 198.8 480.7 199.2 480.9 196.5 481.1 209.4 481.3 195.4 481.5 204.0 481.7 198.2 481.9 197.6 482.1 194.5 482.3 196.3 482.5 201.8 482.7 196.0 482.9 200.2 483.1 196.4 483.3 198.2 483.5 192.9 483.7 197.8 483.9 199.7 484.1 199.2 484.3 192.8 484.5 198.7 484.7 200.0 484.9 197.0 485.1 195.9 485.3 193.0 485.5 203.6 485.7 198.9 485.9 195.4 486.1 197.2 486.3 195.6 486.5 195.7 486.7 203.1 486.9 205.0 487.1 201.0 487.3 199.1 487.5 200.9 487.7 199.3 487.9 202.4 488.1 207.0 488.3 196.9 488.5 194.9 488.7 201.3 488.9 203.0 489.1 195.1 489.3 203.5 489.5 201.7 489.7 197.1 489.9 199.0 490.1 194.5 490.3 196.9 490.5 196.7 490.7 198.1 490.9 206.7 491.1 194.1 491.3 197.9 491.5 194.0 491.7 202.5 491.9 197.5 492.1 196.5 492.3 201.2 492.5 203.6 492.7 192.6 492.9 192.5 493.1 191.2 493.3 196.4 493.5 194.8 493.7 195.9 493.9 196.9 494.1 200.8 494.3 195.5 494.5 197.2 494.7 195.2 494.9 205.3 495.1 198.8 495.3 202.1 495.5 194.4 495.7 196.8 495.9 198.9 496.1 194.1 496.3 196.4 496.5 198.8 496.7 197.6 496.9 209.1 497.1 204.1 497.3 205.7 497.5 191.6 497.7 193.0 497.9 196.1 498.1 192.1 498.3 196.1 498.5 194.9 498.7 202.2 498.9 197.0 499.1 195.4 499.3 197.3 499.5 195.1 499.7 198.0 499.9 195.0 500.1 199.8 500.3 196.4 500.5 197.0 500.7 196.1 500.9 204.3 501.1 199.2 501.3 194.4 501.5 200.5 501.7 196.5 501.9 190.5 502.1 195.3 502.3 194.2 502.5 193.8 502.7 191.1 502.9 197.3 503.1 197.2 503.3 193.9 503.5 206.7 503.7 196.4 503.9 198.6 504.1 195.6 504.3 194.0 504.5 192.7 504.7 196.0 504.9 194.4 505.1 202.9 505.3 194.6 505.5 191.7 505.7 195.0 505.9 196.1 506.1 195.9 506.3 196.8 506.5 200.0 506.7 199.7 506.9 193.3 507.1 195.8 507.3 205.3 507.5 194.9 507.7 192.8 507.9 194.5 508.1 199.9 508.3 191.0 508.5 199.9 508.7 195.8 508.9 196.2 509.1 200.2 509.3 198.4 509.5 199.8 509.7 200.1 509.9 205.0 510.1 194.4 510.3 194.2 510.5 198.6 510.7 190.9 510.9 196.5 511.1 196.1 511.3 191.3 511.5 194.3 511.7 196.0 511.9 193.4 512.1 193.4 512.3 197.7 512.5 203.1 512.7 193.5 512.9 193.3 513.1 194.6 513.3 201.3 513.5 193.3 513.7 199.8 513.9 192.7 514.1 194.4 514.3 194.2 514.5 202.8 514.7 196.9 514.9 193.3 515.1 201.4 515.3 205.0 515.5 196.3 515.7 192.0 515.9 194.2 516.1 198.7 516.3 202.4 516.5 192.1 516.7 192.1 516.9 193.5 517.1 199.0 517.3 193.0 517.5 208.8 517.7 199.7 517.9 197.3 518.1 190.2 518.3 205.2 518.5 199.9 518.7 193.0 518.9 192.8 519.1 197.9 519.3 202.5 519.5 191.7 519.7 189.7 519.9 191.0 520.1 194.5 520.3 202.1 520.5 192.9 520.7 193.7 520.9 191.9 521.1 192.6 521.3 195.0 521.5 189.3 521.7 195.4 521.9 195.6 522.1 193.7 522.3 192.3 522.5 194.2 522.7 190.2 522.9 197.7 523.1 190.9 523.3 191.1 523.5 196.6 523.7 205.8 523.9 193.9 524.1 193.8 524.3 189.6 524.5 194.3 524.7 192.7 524.9 192.4 525.1 199.4 525.3 193.2 525.5 195.5 525.7 198.4 525.9 197.5 526.1 196.3 526.3 192.5 526.5 194.3 526.7 196.8 526.9 203.4 527.1 191.9 527.3 192.3 527.5 191.4 527.7 191.9 527.9 202.9 528.1 197.3 528.3 195.0 528.5 197.0 528.7 191.4 528.9 198.5 529.1 208.1 529.3 195.1 529.5 203.7 529.7 205.7 529.9 193.5 530.1 193.5 530.3 194.1 530.5 202.4 530.7 193.9 530.9 194.3 531.1 196.8 531.3 198.0 531.5 199.4 531.7 194.6 531.9 195.9 532.1 193.6 532.3 192.7 532.5 197.1 532.7 193.3 532.9 197.4 533.1 192.0 533.3 198.3 533.5 193.4 533.7 192.0 533.9 191.3 534.1 194.0 534.3 189.8 534.5 187.9 534.7 191.4 534.9 195.9 535.1 197.1 535.3 193.0 535.5 200.0 535.7 198.8 535.9 201.2 536.1 192.7 536.3 195.4 536.5 189.5 536.7 191.1 536.9 193.8 537.1 196.0 537.3 196.2 537.5 203.3 537.7 200.5 537.9 190.2 538.1 196.5 538.3 208.5 538.5 187.8 538.7 195.4 538.9 191.3 539.1 194.5 539.3 188.2 539.5 201.6 539.7 194.3 539.9 192.5 540.1 206.0 540.3 189.3 540.5 195.8 540.7 192.1 540.9 201.7 541.1 201.7 541.3 201.3 541.5 190.9 541.7 188.7 541.9 189.2 542.1 193.5 542.3 201.1 542.5 191.0 542.7 193.7 542.9 190.9 543.1 192.4 543.3 193.1 543.5 198.6 543.7 199.3 543.9 201.4 544.1 194.5 544.3 196.3 544.5 188.2 544.7 203.4 544.9 191.0 545.1 199.9 545.3 200.5 545.5 188.8 545.7 197.4 545.9 192.6 546.1 192.7 546.3 194.7 546.5 195.4" stroke="#77AC30" stroke-width="1.3" fill="none" stroke-linejoin="round"/>
<path d="M450.0 191.4 450.4 191.8 450.8 192.7 451.2 192.0 451.6 193.0 452.0 191.7 452.4 191.4 452.8 191.6 453.2 192.4 453.6 191.9 454.0 192.2 454.4 191.7 454.8 192.5 455.2 192.3 455.6 192.0 456.0 192.2 456.4 192.0 456.8 193.7 457.2 192.3 457.6 193.2 458.0 192.5 458.4 192.6 458.8 193.5 459.2 193.7 459.6 192.7 460.0 193.5 460.4 193.6 460.8 192.9 461.2 192.6 461.6 193.6 462.0 194.2 462.4 192.9 462.8 193.9 463.2 193.4 463.6 193.4 464.0 193.3 464.4 193.7 464.8 193.4 465.2 194.7 465.6 194.6 466.0 194.5 466.4 193.8 466.8 193.8 467.2 194.0 467.6 194.6 468.0 194.3 468.4 194.5 468.8 194.8 469.2 194.9 469.6 195.3 470.0 194.8 470.4 194.6 470.8 194.2 471.2 194.7 471.6 195.2 472.0 193.8 472.4 195.1 472.8 195.2 473.2 194.2 473.6 195.9 474.0 195.3 474.4 195.3 474.8 195.2 475.2 195.9 475.6 195.7 476.0 195.7 476.4 194.2 476.8 194.5 477.2 195.9 477.6 194.9 478.0 195.4 478.4 195.7 478.8 194.1 479.2 194.4 479.6 195.3 480.0 194.4 480.4 195.4 480.8 193.9 481.2 195.2 481.6 195.2 482.0 193.8 482.4 194.1 482.8 194.2 483.2 193.7 483.6 195.2 484.0 194.5 484.4 194.2 484.8 195.1 485.2 195.2 485.6 194.9 486.0 194.4 486.4 193.4 486.8 194.6 487.2 193.6 487.6 194.2 488.0 194.4 488.4 193.3 488.8 194.4 489.2 193.3 489.6 193.7 490.0 193.7 490.4 193.2 490.8 195.0 491.2 194.9 491.6 194.2 492.0 194.7 492.4 194.2 492.8 194.9 493.2 193.7 493.6 194.0 494.0 194.2 494.4 192.7 494.8 192.9 495.2 193.8 495.6 194.3 496.0 192.8 496.4 192.8 496.8 192.7 497.2 193.5 497.6 193.9 498.0 193.2 498.4 192.9 498.8 193.2 499.2 192.8 499.6 194.1 500.0 194.1 500.4 193.5 500.8 193.1 501.2 192.4 501.6 192.7 502.0 192.9 502.4 193.4 502.8 192.6 503.2 192.4 503.6 193.5 504.0 192.3 504.4 192.7 504.8 193.8 505.2 193.8 505.6 191.9 506.0 192.8 506.4 192.6 506.8 193.7 507.2 192.5 507.6 193.6 508.0 192.7 508.4 192.2 508.8 193.2 509.2 192.4 509.6 193.7 510.0 192.0 510.4 192.7 510.8 193.4 511.2 193.3 511.6 193.7 512.0 191.5 512.4 193.5 512.8 193.0 513.2 191.3 513.6 191.9 514.0 192.5 514.4 192.4 514.8 193.1 515.2 193.1 515.6 191.9 516.0 191.2 516.4 191.1 516.8 192.9 517.2 191.1 517.6 192.8 518.0 191.2 518.4 192.3 518.8 191.8 519.2 192.6 519.6 193.1 520.0 192.5 520.4 192.9 520.8 191.1 521.2 192.8 521.6 192.7 522.0 191.5 522.4 192.3 522.8 191.5 523.2 192.5 523.6 192.8 524.0 191.8 524.4 191.0 524.8 192.6 525.2 192.1 525.6 191.4 526.0 190.6 526.4 192.0 526.8 192.6 527.2 192.4 527.6 191.2 528.0 191.4 528.4 192.6 528.8 192.2 529.2 191.9 529.6 190.3 530.0 191.2 530.4 192.2 530.8 190.6 531.2 191.3 531.6 192.2 532.0 190.9 532.4 190.0 532.8 191.3 533.2 191.1 533.6 192.0 534.0 190.3 534.4 190.5 534.8 190.8 535.2 191.5 535.6 191.0 536.0 190.5 536.4 190.5 536.8 189.8 537.2 190.9 537.6 190.6 538.0 190.8 538.4 190.1 538.8 190.9 539.2 189.6 539.6 190.9 540.0 191.2 540.4 191.5 540.8 189.9 541.2 191.7 541.6 190.8 542.0 190.0 542.4 190.0 542.8 190.7 543.2 190.7 543.6 189.0 544.0 189.3 544.4 191.3 544.8 191.0 545.2 189.8 545.6 189.6 546.0 190.4 546.4 188.9 546.4 199.8 546.0 200.9 545.6 201.1 545.2 201.4 544.8 199.3 544.4 200.3 544.0 200.0 543.6 199.4 543.2 201.8 542.8 201.0 542.4 199.6 542.0 199.1 541.6 200.9 541.2 202.0 540.8 200.1 540.4 201.7 540.0 200.9 539.6 201.9 539.2 199.2 538.8 199.7 538.4 199.7 538.0 201.9 537.6 199.1 537.2 201.0 536.8 200.1 536.4 201.1 536.0 201.5 535.6 201.4 535.2 199.4 534.8 200.1 534.4 200.2 534.0 201.8 533.6 199.4 533.2 200.5 532.8 200.8 532.4 201.5 532.0 199.8 531.6 201.3 531.2 200.4 530.8 199.6 530.4 200.5 530.0 199.7 529.6 200.7 529.2 201.7 528.8 202.5 528.4 202.3 528.0 201.8 527.6 200.4 527.2 200.1 526.8 201.5 526.4 201.0 526.0 201.8 525.6 202.1 525.2 200.6 524.8 202.0 524.4 199.6 524.0 201.8 523.6 199.8 523.2 202.1 522.8 200.6 522.4 201.5 522.0 202.2 521.6 202.7 521.2 200.1 520.8 202.3 520.4 201.5 520.0 200.0 519.6 200.6 519.2 201.1 518.8 201.6 518.4 200.2 518.0 201.2 517.6 200.8 517.2 200.7 516.8 201.4 516.4 202.9 516.0 201.2 515.6 201.0 515.2 200.5 514.8 201.2 514.4 202.8 514.0 201.5 513.6 202.4 513.2 202.9 512.8 202.1 512.4 202.5 512.0 200.8 511.6 202.0 511.2 200.9 510.8 203.2 510.4 201.7 510.0 200.4 509.6 202.2 509.2 203.2 508.8 202.5 508.4 203.3 508.0 201.0 507.6 200.7 507.2 200.9 506.8 201.0 506.4 200.8 506.0 200.4 505.6 201.4 505.2 200.5 504.8 202.9 504.4 202.0 504.0 201.1 503.6 203.1 503.2 203.0 502.8 201.3 502.4 200.7 502.0 201.2 501.6 201.5 501.2 202.0 500.8 202.8 500.4 201.4 500.0 202.1 499.6 202.0 499.2 201.9 498.8 201.3 498.4 202.9 498.0 201.8 497.6 203.5 497.2 202.4 496.8 201.6 496.4 202.4 496.0 202.6 495.6 202.9 495.2 201.1 494.8 201.7 494.4 203.5 494.0 202.0 493.6 201.6 493.2 201.2 492.8 201.4 492.4 203.6 492.0 202.7 491.6 202.1 491.2 201.4 490.8 202.9 490.4 202.9 490.0 201.6 489.6 202.3 489.2 201.4 488.8 203.2 488.4 201.8 488.0 203.1 487.6 203.4 487.2 201.8 486.8 203.9 486.4 201.5 486.0 203.9 485.6 202.3 485.2 203.5 484.8 201.4 484.4 202.9 484.0 204.1 483.6 201.8 483.2 203.3 482.8 201.9 482.4 203.0 482.0 202.0 481.6 202.3 481.2 204.1 480.8 203.3 480.4 204.2 480.0 204.0 479.6 202.4 479.2 203.3 478.8 204.2 478.4 204.1 478.0 203.3 477.6 204.1 477.2 202.3 476.8 203.9 476.4 202.3 476.0 204.4 475.6 203.6 475.2 203.0 474.8 204.4 474.4 203.1 474.0 203.3 473.6 201.8 473.2 203.4 472.8 202.7 472.4 202.5 472.0 201.9 471.6 203.0 471.2 202.0 470.8 201.7 470.4 203.6 470.0 202.5 469.6 202.4 469.2 202.4 468.8 202.2 468.4 202.5 468.0 202.1 467.6 200.4 467.2 199.8 466.8 199.8 466.4 201.0 466.0 200.9 465.6 199.6 465.2 199.8 464.8 200.6 464.4 199.3 464.0 197.9 463.6 197.8 463.2 198.3 462.8 197.2 462.4 199.5 462.0 199.2 461.6 196.8 461.2 196.5 460.8 196.8 460.4 197.4 460.0 197.3 459.6 196.3 459.2 197.5 458.8 197.3 458.4 195.0 458.0 196.3 457.6 194.9 457.2 195.7 456.8 194.6 456.4 195.1 456.0 194.8 455.6 195.8 455.2 194.9 454.8 193.6 454.4 195.0 454.0 194.5 453.6 194.0 453.2 193.7 452.8 192.5 452.4 193.2 452.0 192.9 451.6 193.1 451.2 192.2 450.8 192.7 450.4 192.4 450.0 192.5Z" fill="#77AC30" stroke="none"/>
<path d="M312.6 305.2 321.1 302.3 330.2 298.8 336.0 296.0 340.0 295.0 344.0 293.6 347.3 293.2 350.0 293.6 352.7 295.0 356.0 297.0 360.0 299.5 362.5 298.2 365.5 297.7 368.2 298.6 371.0 301.0 373.6 304.6 376.5 301.5 379.1 299.9 382.7 303.2 385.5 304.1 388.7 300.5 390.9 304.1 392.7 302.3 395.5 305.9 398.2 305.0 400.9 307.7 403.6 306.8 406.4 310.5 409.1 317.7 411.8 310.5 413.6 314.1 415.5 308.6 417.3 315.0 419.1 306.8 420.9 312.3 422.7 319.5 425.5 310.5 427.3 312.3 430.0 310.5 431.8 315.0 434.5 312.3 436.4 317.7 440.0 308.6 440.2 311.5 440.4 312.1 440.7 308.7 440.9 310.8 441.1 310.4 441.3 311.3 441.5 310.7 441.7 311.7 441.9 312.4 442.2 312.3 442.4 312.8 442.6 310.6 442.8 314.5 443.0 314.1 443.2 311.5 443.4 308.7 443.6 310.3 443.8 310.8 444.0 310.5 444.2 313.4 444.4 311.6 444.6 317.7 444.8 311.6 445.0 316.8 445.2 314.7 445.4 314.7 445.6 312.7 445.8 312.0 446.0 313.7 446.2 315.7 446.4 315.0 446.6 309.4 446.8 308.8 447.0 309.8 447.2 314.9 447.4 314.2 447.6 310.1 447.8 319.3 448.0 315.0 448.2 311.5 448.4 309.3 448.6 309.8 448.8 310.5 449.0 313.6 449.2 311.2 449.4 309.7 449.6 310.1 449.8 309.3 450.0 311.1 450.2 311.0 450.4 311.5 450.6 313.1 450.8 312.3 451.0 309.9 451.2 312.3 451.4 319.8 451.6 313.2 451.8 310.5 452.0 311.6 452.2 313.0 452.4 309.9 452.6 311.4 452.8 315.3 453.0 311.8 453.2 310.6 453.4 322.7 453.6 310.0 453.8 313.6 454.0 310.9 454.2 322.6 454.4 314.6 454.6 314.8 454.8 315.8 455.0 312.3 455.2 311.4 455.4 312.4 455.6 310.4 455.8 317.7 456.0 315.3 456.2 314.3 456.4 311.5 456.6 312.0 456.8 309.2 457.0 310.9 457.2 313.4 457.4 312.0 457.6 311.4 457.8 313.6 458.0 312.5 458.2 311.2 458.4 311.4 458.6 317.5 458.8 322.0 459.0 312.4 459.2 311.6 459.4 317.1 459.6 311.3 459.8 312.1 460.0 317.6 460.2 317.8 460.4 312.9 460.6 313.2 460.8 317.9 461.0 310.8 461.2 317.0 461.4 311.6 461.6 310.3 461.8 318.9 462.0 312.8 462.2 313.9 462.4 310.8 462.6 314.8 462.8 315.2 463.0 317.1 463.2 311.6 463.4 316.1 463.6 310.9 463.8 323.1 464.0 311.2 464.2 324.9 464.4 312.8 464.6 310.4 464.8 316.4 465.0 313.9 465.2 315.5 465.4 321.6 465.6 311.9 465.8 314.9 466.0 312.3 466.2 323.7 466.4 319.0 466.6 317.8 466.8 312.2 467.0 325.1 467.2 325.0 467.4 315.3 467.6 313.8 467.8 308.4 468.0 306.1 468.2 307.0 468.4 304.6 468.6 307.8 468.8 308.2 469.0 311.2 469.2 320.6 469.4 315.1 469.6 315.9 469.8 315.7 470.0 314.9 470.2 313.7 470.4 316.4 470.6 315.2 470.8 312.4 471.0 313.8 471.2 319.2 471.4 320.2 471.6 316.8 471.8 308.6 472.0 310.0 472.2 304.2 472.4 301.9 472.6 303.4 472.8 305.1 473.0 304.7 473.2 307.9 473.4 307.3 473.6 313.0 473.8 313.4 474.0 313.6 474.2 314.4 474.4 320.1 474.6 315.1 474.8 316.6 475.0 314.1 475.2 313.2 475.4 319.7 475.6 317.3 475.8 318.8 476.0 310.5 476.2 316.0 476.4 316.4 476.6 310.4 476.8 313.1 477.0 312.3 477.2 315.9 477.4 321.7 477.6 317.3 477.8 323.2 478.0 317.0 478.2 316.5 478.4 316.2 478.6 309.9 478.8 315.6 479.0 320.7 479.2 320.4 479.4 314.2 479.6 315.8 479.8 317.0 480.0 316.1 480.2 317.0 480.4 314.3 480.6 315.1 480.8 325.4 481.0 316.1 481.2 319.2 481.4 315.2 481.6 316.5 481.8 313.5 482.0 310.4 482.2 313.7 482.4 314.9 482.6 316.0 482.8 322.4 483.0 313.8 483.2 320.3 483.4 317.5 483.6 315.3 483.8 319.1 484.0 312.3 484.2 315.7 484.4 310.2 484.6 328.6 484.8 316.6 485.0 318.3 485.2 315.4 485.4 314.7 485.6 315.3 485.8 311.1 486.0 316.9 486.2 317.7 486.4 313.7 486.6 315.7 486.8 319.2 487.0 311.5 487.2 319.9 487.4 324.3 487.6 315.9 487.8 311.7 488.0 312.5 488.2 313.0 488.4 315.2 488.6 316.2 488.8 318.9 489.0 321.3 489.2 317.0 489.4 312.8 489.6 315.8 489.8 309.9 490.0 313.2 490.2 315.9 490.4 315.4 490.6 317.3 490.8 311.8 491.0 312.9 491.2 321.1 491.4 311.9 491.6 314.6 491.8 318.1 492.0 313.9 492.2 317.3 492.4 314.5 492.6 316.4 492.8 315.1 493.0 311.6 493.2 312.1 493.4 316.7 493.6 317.8 493.8 314.3 494.0 314.8 494.2 323.9 494.4 316.4 494.6 319.4 494.8 315.0 495.0 321.6 495.2 319.1 495.4 319.9 495.6 319.4 495.8 315.9 496.0 312.6 496.2 315.1 496.4 315.1 496.6 313.8 496.8 317.9 497.0 317.5 497.2 315.0 497.4 320.9 497.6 314.0 497.8 311.7 498.0 312.4 498.2 325.7 498.4 311.8 498.6 320.6 498.8 322.9 499.0 315.5 499.2 318.6 499.4 321.6 499.6 315.6 499.8 316.3 500.0 316.3 500.2 316.6 500.4 315.5 500.6 313.8 500.8 314.4 501.0 314.6 501.2 313.2 501.4 317.1 501.6 315.2 501.8 323.4 502.0 323.9 502.2 314.8 502.4 309.6 502.6 308.9 502.8 298.9 503.0 300.5 503.2 300.6 503.4 304.9 503.6 304.8 503.8 318.3 504.0 318.8 504.2 315.0 504.4 318.5 504.6 318.9 504.8 323.2 505.0 311.9 505.2 317.6 505.4 316.1 505.6 320.5 505.8 311.4 506.0 323.4 506.2 313.2 506.4 319.2 506.6 309.1 506.8 308.3 507.0 305.6 507.2 311.8 507.4 311.1 507.6 328.0 507.8 320.5 508.0 309.8 508.2 318.7 508.4 328.6 508.6 320.4 508.8 318.8 509.0 316.7 509.2 318.5 509.4 319.3 509.6 316.4 509.8 314.8 510.0 315.5 510.2 308.5 510.4 305.7 510.6 305.2 510.8 306.1 511.0 311.1 511.2 317.3 511.4 310.4 511.6 323.4 511.8 319.7 512.0 318.2 512.2 318.2 512.4 321.4 512.6 312.6 512.8 319.5 513.0 316.2 513.2 315.4 513.4 323.1 513.6 317.3 513.8 322.8 514.0 315.8 514.2 313.5 514.4 311.9 514.6 310.2 514.8 323.1 515.0 316.3 515.2 313.8 515.4 317.2 515.6 309.6 515.8 315.5 516.0 310.8 516.2 324.8 516.4 316.5 516.6 312.8 516.8 310.9 517.0 314.9 517.2 310.4 517.4 311.6 517.6 315.7 517.8 312.1 518.0 314.2 518.2 321.6 518.4 309.2 518.6 309.9 518.8 309.1 519.0 317.9 519.2 310.6 519.4 325.8 519.6 313.6 519.8 316.3 520.0 313.4 520.2 314.9 520.4 312.6 520.6 314.0 520.8 310.0 521.0 311.1 521.2 316.0 521.4 317.6 521.6 316.6 521.8 314.9 522.0 313.3 522.2 312.2 522.4 309.0 522.6 304.5 522.8 315.5 523.0 314.8 523.2 311.5 523.4 329.9 523.6 309.9 523.8 323.9 524.0 310.2 524.2 310.2 524.4 312.7 524.6 303.2 524.8 313.6 525.0 326.7 525.2 318.5 525.4 314.6 525.6 307.6 525.8 307.5 526.0 312.3 526.2 305.2 526.4 316.0 526.6 314.2 526.8 309.0 527.0 309.3 527.2 306.1 527.4 312.3 527.6 304.1 527.8 307.7 528.0 306.9 528.2 308.2 528.4 313.8 528.6 308.3 528.8 302.8 529.0 326.0 529.2 311.5 529.4 311.8 529.6 312.8 529.8 305.6 530.0 307.1 530.2 315.9 530.4 306.4 530.6 303.9 530.8 319.2 531.0 324.9 531.2 307.6 531.4 303.8 531.6 308.1 531.8 308.7 532.0 310.0 532.2 307.9 532.4 303.1 532.6 307.4 532.8 305.6 533.0 309.1 533.2 303.5 533.4 305.2 533.6 308.4 533.8 311.5 534.0 311.5 534.2 300.7 534.4 306.7 534.6 318.6 534.8 308.2 535.0 309.4 535.2 307.2 535.4 311.8 535.6 302.9 535.8 308.7 536.0 304.3 536.2 312.3 536.4 303.3 536.6 308.0 536.8 308.0 537.0 309.5 537.2 302.2 537.4 307.9 537.6 308.3 537.8 310.7 538.0 309.3 538.2 312.4 538.4 309.6 538.6 312.6 538.8 318.8 539.0 310.8 539.2 323.8 539.4 306.8 539.6 317.9 539.8 303.3 540.0 311.8 540.2 312.7 540.4 308.4 540.6 312.3 540.8 306.2 541.0 312.1 541.2 303.1 541.4 322.2 541.6 320.8 541.8 303.9 542.0 306.8 542.2 313.1 542.4 307.4 542.6 311.4 542.8 309.2 543.0 313.0 543.2 308.8 543.4 307.5 543.6 304.7 543.8 313.5 544.0 308.5 544.2 308.6 544.4 304.3 544.6 309.8 544.8 304.5 545.0 303.3 545.2 310.9 545.4 311.0 545.6 302.0 545.8 308.6 546.0 309.3 546.2 306.0 546.4 308.4 546.6 309.5" stroke="#4DBEEE" stroke-width="1.3" fill="none" stroke-linejoin="round"/>
<path d="M455.0 311.4 455.4 311.0 455.8 311.6 456.2 311.6 456.6 311.7 457.0 311.0 457.4 310.6 457.8 311.9 458.2 310.9 458.6 311.7 459.0 311.5 459.4 312.1 459.8 310.6 460.2 310.6 460.6 312.3 461.0 310.7 461.4 311.2 461.8 312.2 462.2 311.0 462.6 312.2 463.0 311.5 463.4 311.6 463.8 312.1 464.2 312.5 464.6 312.6 465.0 311.3 465.4 311.9 465.8 312.9 466.2 312.3 466.6 313.0 467.0 312.4 467.4 311.7 467.8 308.6 468.2 304.6 468.6 307.0 469.0 311.0 469.4 312.2 469.8 312.7 470.2 313.0 470.6 312.1 471.0 311.3 471.4 311.1 471.8 309.7 472.2 304.1 472.6 302.7 473.0 305.5 473.4 309.7 473.8 310.7 474.2 312.9 474.6 313.7 475.0 313.2 475.4 312.6 475.8 312.4 476.2 312.0 476.6 313.6 477.0 313.4 477.4 312.2 477.8 313.0 478.2 313.8 478.6 313.5 479.0 313.2 479.4 313.3 479.8 313.1 480.2 312.4 480.6 313.2 481.0 313.4 481.4 311.8 481.8 313.3 482.2 312.6 482.6 311.5 483.0 312.4 483.4 313.2 483.8 312.2 484.2 312.6 484.6 314.0 485.0 313.3 485.4 313.8 485.8 311.9 486.2 311.6 486.6 312.6 487.0 313.1 487.4 311.7 487.8 313.0 488.2 313.0 488.6 312.5 489.0 312.3 489.4 312.0 489.8 313.8 490.2 312.4 490.6 313.9 491.0 314.1 491.4 313.4 491.8 314.1 492.2 313.5 492.6 311.7 493.0 312.3 493.4 312.1 493.8 312.8 494.2 312.4 494.6 313.7 495.0 314.1 495.4 312.2 495.8 312.5 496.2 313.7 496.6 313.1 497.0 312.5 497.4 312.9 497.8 313.7 498.2 314.4 498.6 312.2 499.0 313.8 499.4 313.1 499.8 312.6 500.2 313.7 500.6 313.2 501.0 313.0 501.4 313.0 501.8 312.4 502.2 310.9 502.6 305.1 503.0 298.3 503.4 304.3 503.8 309.8 504.2 314.3 504.6 313.4 505.0 312.7 505.4 312.1 505.8 312.7 506.2 310.6 506.6 309.4 507.0 307.4 507.4 311.4 507.8 312.3 508.2 314.5 508.6 314.6 509.0 313.4 509.4 313.5 509.8 310.1 510.2 308.0 510.6 304.2 511.0 308.1 511.4 311.6 511.8 312.5 512.2 313.8 512.6 313.1 513.0 311.6 513.4 311.6 513.8 311.9 514.2 313.3 514.6 312.0 515.0 311.0 515.4 310.4 515.8 312.7 516.2 310.7 516.6 311.1 517.0 311.3 517.4 311.8 517.8 311.8 518.2 310.8 518.6 309.2 519.0 310.9 519.4 308.3 519.8 308.5 520.2 310.6 520.6 310.1 521.0 309.7 521.4 308.8 521.8 309.1 522.2 308.7 522.6 307.2 523.0 306.8 523.4 306.4 523.8 306.4 524.2 308.6 524.6 306.9 525.0 306.0 525.4 306.8 525.8 305.3 526.2 306.7 526.6 305.2 527.0 304.9 527.4 305.6 527.8 304.1 528.2 304.3 528.6 304.0 529.0 303.6 529.4 305.0 529.8 304.4 530.2 303.9 530.6 303.2 531.0 304.9 531.4 306.1 531.8 303.4 532.2 303.0 532.6 305.5 533.0 302.9 533.4 305.4 533.8 303.6 534.2 305.2 534.6 305.4 535.0 303.6 535.4 303.2 535.8 302.8 536.2 303.3 536.6 303.8 537.0 304.5 537.4 305.2 537.8 304.2 538.2 305.4 538.6 304.4 539.0 304.4 539.4 303.5 539.8 305.0 540.2 306.2 540.6 305.1 541.0 304.0 541.4 305.9 541.8 305.0 542.2 304.0 542.6 303.8 543.0 305.4 543.4 304.2 543.8 304.7 544.2 304.3 544.6 305.7 545.0 304.0 545.4 305.2 545.8 305.7 546.2 306.8 546.6 305.7 546.6 317.2 546.2 321.0 545.8 319.2 545.4 317.4 545.0 318.7 544.6 317.0 544.2 318.6 543.8 317.1 543.4 317.1 543.0 320.0 542.6 318.5 542.2 316.4 541.8 318.9 541.4 318.0 541.0 319.3 540.6 319.0 540.2 320.1 539.8 316.9 539.4 317.3 539.0 318.9 538.6 319.8 538.2 318.2 537.8 316.3 537.4 317.8 537.0 317.5 536.6 319.2 536.2 318.1 535.8 319.3 535.4 317.3 535.0 316.0 534.6 315.2 534.2 315.6 533.8 319.1 533.4 318.7 533.0 315.5 532.6 317.9 532.2 318.1 531.8 318.5 531.4 317.6 531.0 316.2 530.6 317.6 530.2 318.9 529.8 318.1 529.4 315.6 529.0 319.1 528.6 316.0 528.2 318.3 527.8 318.3 527.4 316.5 527.0 318.4 526.6 317.6 526.2 319.2 525.8 317.3 525.4 317.6 525.0 317.6 524.6 317.5 524.2 319.3 523.8 319.2 523.4 320.3 523.0 319.8 522.6 321.4 522.2 319.2 521.8 319.6 521.4 321.6 521.0 320.7 520.6 320.4 520.2 320.3 519.8 320.8 519.4 322.8 519.0 321.8 518.6 321.0 518.2 323.5 517.8 323.7 517.4 324.6 517.0 323.7 516.6 323.1 516.2 323.7 515.8 323.7 515.4 323.5 515.0 323.8 514.6 325.0 514.2 323.6 513.8 323.0 513.4 323.2 513.0 323.1 512.6 323.2 512.2 326.4 511.8 325.4 511.4 323.4 511.0 321.1 510.6 318.4 510.2 319.4 509.8 322.7 509.4 324.1 509.0 324.9 508.6 326.0 508.2 325.3 507.8 325.6 507.4 323.3 507.0 319.4 506.6 319.8 506.2 321.9 505.8 324.2 505.4 324.2 505.0 324.0 504.6 323.0 504.2 325.1 503.8 323.6 503.4 315.2 503.0 311.2 502.6 316.7 502.2 322.2 501.8 324.2 501.4 326.0 501.0 326.0 500.6 325.8 500.2 325.4 499.8 325.9 499.4 325.0 499.0 325.0 498.6 324.7 498.2 323.3 497.8 323.9 497.4 325.6 497.0 323.3 496.6 322.7 496.2 322.3 495.8 322.9 495.4 323.5 495.0 322.8 494.6 324.8 494.2 323.2 493.8 322.3 493.4 324.4 493.0 325.1 492.6 324.3 492.2 323.2 491.8 322.6 491.4 322.4 491.0 324.9 490.6 325.0 490.2 323.1 489.8 323.2 489.4 325.0 489.0 322.5 488.6 324.6 488.2 322.0 487.8 323.3 487.4 323.3 487.0 322.4 486.6 324.8 486.2 323.4 485.8 324.5 485.4 322.1 485.0 323.9 484.6 323.9 484.2 324.5 483.8 322.0 483.4 323.4 483.0 322.7 482.6 324.3 482.2 324.2 481.8 321.9 481.4 323.1 481.0 322.9 480.6 322.9 480.2 323.7 479.8 324.0 479.4 321.1 479.0 322.3 478.6 323.0 478.2 320.7 477.8 321.5 477.4 322.4 477.0 321.6 476.6 321.1 476.2 320.9 475.8 322.3 475.4 320.0 475.0 320.1 474.6 319.5 474.2 320.7 473.8 318.1 473.4 316.2 473.0 312.0 472.6 311.4 472.2 313.2 471.8 317.6 471.4 318.1 471.0 317.5 470.6 316.9 470.2 317.4 469.8 317.5 469.4 316.7 469.0 315.3 468.6 312.4 468.2 311.1 467.8 312.4 467.4 315.7 467.0 315.2 466.6 317.4 466.2 314.7 465.8 315.3 465.4 314.5 465.0 315.4 464.6 316.0 464.2 314.6 463.8 314.3 463.4 313.6 463.0 315.5 462.6 313.2 462.2 313.4 461.8 314.0 461.4 314.0 461.0 314.6 460.6 313.9 460.2 314.1 459.8 312.7 459.4 312.9 459.0 311.9 458.6 311.7 458.2 312.9 457.8 311.9 457.4 312.9 457.0 312.8 456.6 311.7 456.2 312.6 455.8 312.1 455.4 311.0 455.0 311.4Z" fill="#4DBEEE" stroke="none"/>
<path d="M33.4 26.79L267.2 79.43" stroke="#000" stroke-width="1.25" stroke-dasharray="3.9 3.7" stroke-dashoffset="-0.4" fill="none"/>
<path d="M33.4 146.05L267.2 198.49" stroke="#000" stroke-width="1.25" stroke-dasharray="3.9 3.7" stroke-dashoffset="-0.4" fill="none"/>
<path d="M33.4 260.66L267.2 301.04" stroke="#000" stroke-width="1.25" stroke-dasharray="3.9 3.7" stroke-dashoffset="-0.4" fill="none"/>
<path d="M313.45 24.75L546.7 65.08" stroke="#000" stroke-width="1.25" stroke-dasharray="3.9 3.7" stroke-dashoffset="-0.4" fill="none"/>
<path d="M313.45 146.86L546.7 204.6" stroke="#000" stroke-width="1.25" stroke-dasharray="3.9 3.7" stroke-dashoffset="-0.4" fill="none"/>
<path d="M313.45 263.77L546.7 324.18" stroke="#000" stroke-width="1.25" stroke-dasharray="3.9 3.7" stroke-dashoffset="-0.4" fill="none"/>
<path d="M33.4 96.3v-1.4M33.4 16.8v1.4M41.04 96.3v-1.4M41.04 16.8v1.4M46.96 96.3v-1.4M46.96 16.8v1.4M51.81 96.3v-1.4M51.81 16.8v1.4M55.9 96.3v-1.4M55.9 16.8v1.4M59.44 96.3v-1.4M59.44 16.8v1.4M62.57 96.3v-1.4M62.57 16.8v1.4M65.37 96.3v-2.4M65.37 16.8v2.4M83.78 96.3v-1.4M83.78 16.8v1.4M94.54 96.3v-1.4M94.54 16.8v1.4M102.18 96.3v-1.4M102.18 16.8v1.4M108.11 96.3v-1.4M108.11 16.8v1.4M112.95 96.3v-1.4M112.95 16.8v1.4M117.04 96.3v-1.4M117.04 16.8v1.4M120.59 96.3v-1.4M120.59 16.8v1.4M123.71 96.3v-1.4M123.71 16.8v1.4M126.51 96.3v-2.4M126.51 16.8v2.4M144.92 96.3v-1.4M144.92 16.8v1.4M155.68 96.3v-1.4M155.68 16.8v1.4M163.32 96.3v-1.4M163.32 16.8v1.4M169.25 96.3v-1.4M169.25 16.8v1.4M174.09 96.3v-1.4M174.09 16.8v1.4M178.18 96.3v-1.4M178.18 16.8v1.4M181.73 96.3v-1.4M181.73 16.8v1.4M184.86 96.3v-1.4M184.86 16.8v1.4M187.65 96.3v-2.4M187.65 16.8v2.4M206.06 96.3v-1.4M206.06 16.8v1.4M216.82 96.3v-1.4M216.82 16.8v1.4M224.46 96.3v-1.4M224.46 16.8v1.4M230.39 96.3v-1.4M230.39 16.8v1.4M235.23 96.3v-1.4M235.23 16.8v1.4M239.32 96.3v-1.4M239.32 16.8v1.4M242.87 96.3v-1.4M242.87 16.8v1.4M246 96.3v-1.4M246 16.8v1.4M248.79 96.3v-2.4M248.79 16.8v2.4M267.2 96.3v-1.4M267.2 16.8v1.4M33.4 16.8h2.4M267.2 16.8h-2.4M33.4 23.68h1.4M267.2 23.68h-1.4M33.4 30.57h1.4M267.2 30.57h-1.4M33.4 37.45h1.4M267.2 37.45h-1.4M33.4 44.33h1.4M267.2 44.33h-1.4M33.4 51.22h2.4M267.2 51.22h-2.4M33.4 58.1h1.4M267.2 58.1h-1.4M33.4 64.98h1.4M267.2 64.98h-1.4M33.4 71.86h1.4M267.2 71.86h-1.4M33.4 78.75h1.4M267.2 78.75h-1.4M33.4 85.63h2.4M267.2 85.63h-2.4M33.4 92.51h1.4M267.2 92.51h-1.4M33.4 16.8H267.2V96.3H33.4Z" stroke="#8a8a8a" stroke-width="0.8" fill="none"/>
<rect x="120.4" y="21.4" width="142.12" height="18.6" fill="#fff" stroke="#8a8a8a" stroke-width="0.8"/>
<path d="M122.4 26.75h19.9" stroke="#EDB120" stroke-width="1.5"/>
<path d="M122.4 35h20.3" stroke="#000" stroke-width="1.5" stroke-dasharray="3.9 3.6"/>
<path d="M33.4 215.3v-1.4M33.4 136.1v1.4M41.04 215.3v-1.4M41.04 136.1v1.4M46.96 215.3v-1.4M46.96 136.1v1.4M51.81 215.3v-1.4M51.81 136.1v1.4M55.9 215.3v-1.4M55.9 136.1v1.4M59.44 215.3v-1.4M59.44 136.1v1.4M62.57 215.3v-1.4M62.57 136.1v1.4M65.37 215.3v-2.4M65.37 136.1v2.4M83.78 215.3v-1.4M83.78 136.1v1.4M94.54 215.3v-1.4M94.54 136.1v1.4M102.18 215.3v-1.4M102.18 136.1v1.4M108.11 215.3v-1.4M108.11 136.1v1.4M112.95 215.3v-1.4M112.95 136.1v1.4M117.04 215.3v-1.4M117.04 136.1v1.4M120.59 215.3v-1.4M120.59 136.1v1.4M123.71 215.3v-1.4M123.71 136.1v1.4M126.51 215.3v-2.4M126.51 136.1v2.4M144.92 215.3v-1.4M144.92 136.1v1.4M155.68 215.3v-1.4M155.68 136.1v1.4M163.32 215.3v-1.4M163.32 136.1v1.4M169.25 215.3v-1.4M169.25 136.1v1.4M174.09 215.3v-1.4M174.09 136.1v1.4M178.18 215.3v-1.4M178.18 136.1v1.4M181.73 215.3v-1.4M181.73 136.1v1.4M184.86 215.3v-1.4M184.86 136.1v1.4M187.65 215.3v-2.4M187.65 136.1v2.4M206.06 215.3v-1.4M206.06 136.1v1.4M216.82 215.3v-1.4M216.82 136.1v1.4M224.46 215.3v-1.4M224.46 136.1v1.4M230.39 215.3v-1.4M230.39 136.1v1.4M235.23 215.3v-1.4M235.23 136.1v1.4M239.32 215.3v-1.4M239.32 136.1v1.4M242.87 215.3v-1.4M242.87 136.1v1.4M246 215.3v-1.4M246 136.1v1.4M248.79 215.3v-2.4M248.79 136.1v2.4M267.2 215.3v-1.4M267.2 136.1v1.4M33.4 136.1h2.4M267.2 136.1h-2.4M33.4 142.96h1.4M267.2 142.96h-1.4M33.4 149.81h1.4M267.2 149.81h-1.4M33.4 156.67h1.4M267.2 156.67h-1.4M33.4 163.53h1.4M267.2 163.53h-1.4M33.4 170.39h2.4M267.2 170.39h-2.4M33.4 177.24h1.4M267.2 177.24h-1.4M33.4 184.1h1.4M267.2 184.1h-1.4M33.4 190.96h1.4M267.2 190.96h-1.4M33.4 197.81h1.4M267.2 197.81h-1.4M33.4 204.67h2.4M267.2 204.67h-2.4M33.4 211.53h1.4M267.2 211.53h-1.4M33.4 136.1H267.2V215.3H33.4Z" stroke="#8a8a8a" stroke-width="0.8" fill="none"/>
<rect x="110.6" y="140.1" width="152.44" height="18.6" fill="#fff" stroke="#8a8a8a" stroke-width="0.8"/>
<path d="M112.6 145.45h19.9" stroke="#0072BD" stroke-width="1.5"/>
<path d="M112.6 153.7h20.3" stroke="#000" stroke-width="1.5" stroke-dasharray="3.9 3.6"/>
<path d="M33.4 332.2v-1.4M33.4 253v1.4M41.04 332.2v-1.4M41.04 253v1.4M46.96 332.2v-1.4M46.96 253v1.4M51.81 332.2v-1.4M51.81 253v1.4M55.9 332.2v-1.4M55.9 253v1.4M59.44 332.2v-1.4M59.44 253v1.4M62.57 332.2v-1.4M62.57 253v1.4M65.37 332.2v-2.4M65.37 253v2.4M83.78 332.2v-1.4M83.78 253v1.4M94.54 332.2v-1.4M94.54 253v1.4M102.18 332.2v-1.4M102.18 253v1.4M108.11 332.2v-1.4M108.11 253v1.4M112.95 332.2v-1.4M112.95 253v1.4M117.04 332.2v-1.4M117.04 253v1.4M120.59 332.2v-1.4M120.59 253v1.4M123.71 332.2v-1.4M123.71 253v1.4M126.51 332.2v-2.4M126.51 253v2.4M144.92 332.2v-1.4M144.92 253v1.4M155.68 332.2v-1.4M155.68 253v1.4M163.32 332.2v-1.4M163.32 253v1.4M169.25 332.2v-1.4M169.25 253v1.4M174.09 332.2v-1.4M174.09 253v1.4M178.18 332.2v-1.4M178.18 253v1.4M181.73 332.2v-1.4M181.73 253v1.4M184.86 332.2v-1.4M184.86 253v1.4M187.65 332.2v-2.4M187.65 253v2.4M206.06 332.2v-1.4M206.06 253v1.4M216.82 332.2v-1.4M216.82 253v1.4M224.46 332.2v-1.4M224.46 253v1.4M230.39 332.2v-1.4M230.39 253v1.4M235.23 332.2v-1.4M235.23 253v1.4M239.32 332.2v-1.4M239.32 253v1.4M242.87 332.2v-1.4M242.87 253v1.4M246 332.2v-1.4M246 253v1.4M248.79 332.2v-2.4M248.79 253v2.4M267.2 332.2v-1.4M267.2 253v1.4M33.4 253h2.4M267.2 253h-2.4M33.4 258.28h1.4M267.2 258.28h-1.4M33.4 263.56h1.4M267.2 263.56h-1.4M33.4 268.84h1.4M267.2 268.84h-1.4M33.4 274.12h1.4M267.2 274.12h-1.4M33.4 279.4h2.4M267.2 279.4h-2.4M33.4 284.68h1.4M267.2 284.68h-1.4M33.4 289.96h1.4M267.2 289.96h-1.4M33.4 295.24h1.4M267.2 295.24h-1.4M33.4 300.52h1.4M267.2 300.52h-1.4M33.4 305.8h2.4M267.2 305.8h-2.4M33.4 311.08h1.4M267.2 311.08h-1.4M33.4 316.36h1.4M267.2 316.36h-1.4M33.4 321.64h1.4M267.2 321.64h-1.4M33.4 326.92h1.4M267.2 326.92h-1.4M33.4 332.2h2.4M267.2 332.2h-2.4M33.4 253H267.2V332.2H33.4Z" stroke="#8a8a8a" stroke-width="0.8" fill="none"/>
<rect x="37.45" y="309.6" width="151.71" height="18.6" fill="#fff" stroke="#8a8a8a" stroke-width="0.8"/>
<path d="M39.45 314.95h19.9" stroke="#D95319" stroke-width="1.5"/>
<path d="M39.45 323.2h20.3" stroke="#000" stroke-width="1.5" stroke-dasharray="3.9 3.6"/>
<path d="M313.45 96.2v-1.4M313.45 17.1v1.4M321.07 96.2v-1.4M321.07 17.1v1.4M326.98 96.2v-1.4M326.98 17.1v1.4M331.81 96.2v-1.4M331.81 17.1v1.4M335.9 96.2v-1.4M335.9 17.1v1.4M339.43 96.2v-1.4M339.43 17.1v1.4M342.55 96.2v-1.4M342.55 17.1v1.4M345.34 96.2v-2.4M345.34 17.1v2.4M363.71 96.2v-1.4M363.71 17.1v1.4M374.45 96.2v-1.4M374.45 17.1v1.4M382.07 96.2v-1.4M382.07 17.1v1.4M387.98 96.2v-1.4M387.98 17.1v1.4M392.81 96.2v-1.4M392.81 17.1v1.4M396.89 96.2v-1.4M396.89 17.1v1.4M400.43 96.2v-1.4M400.43 17.1v1.4M403.55 96.2v-1.4M403.55 17.1v1.4M406.34 96.2v-2.4M406.34 17.1v2.4M424.7 96.2v-1.4M424.7 17.1v1.4M435.45 96.2v-1.4M435.45 17.1v1.4M443.07 96.2v-1.4M443.07 17.1v1.4M448.98 96.2v-1.4M448.98 17.1v1.4M453.81 96.2v-1.4M453.81 17.1v1.4M457.89 96.2v-1.4M457.89 17.1v1.4M461.43 96.2v-1.4M461.43 17.1v1.4M464.55 96.2v-1.4M464.55 17.1v1.4M467.34 96.2v-2.4M467.34 17.1v2.4M485.7 96.2v-1.4M485.7 17.1v1.4M496.44 96.2v-1.4M496.44 17.1v1.4M504.06 96.2v-1.4M504.06 17.1v1.4M509.98 96.2v-1.4M509.98 17.1v1.4M514.81 96.2v-1.4M514.81 17.1v1.4M518.89 96.2v-1.4M518.89 17.1v1.4M522.43 96.2v-1.4M522.43 17.1v1.4M525.55 96.2v-1.4M525.55 17.1v1.4M528.34 96.2v-2.4M528.34 17.1v2.4M546.7 96.2v-1.4M546.7 17.1v1.4M313.45 17.1h2.4M546.7 17.1h-2.4M313.45 22.37h1.4M546.7 22.37h-1.4M313.45 27.65h1.4M546.7 27.65h-1.4M313.45 32.92h1.4M546.7 32.92h-1.4M313.45 38.19h1.4M546.7 38.19h-1.4M313.45 43.47h2.4M546.7 43.47h-2.4M313.45 48.74h1.4M546.7 48.74h-1.4M313.45 54.01h1.4M546.7 54.01h-1.4M313.45 59.29h1.4M546.7 59.29h-1.4M313.45 64.56h1.4M546.7 64.56h-1.4M313.45 69.83h2.4M546.7 69.83h-2.4M313.45 75.11h1.4M546.7 75.11h-1.4M313.45 80.38h1.4M546.7 80.38h-1.4M313.45 85.65h1.4M546.7 85.65h-1.4M313.45 90.93h1.4M546.7 90.93h-1.4M313.45 96.2h2.4M546.7 96.2h-2.4M313.45 17.1H546.7V96.2H313.45Z" stroke="#8a8a8a" stroke-width="0.8" fill="none"/>
<rect x="316.4" y="74.4" width="135.07" height="18.6" fill="#fff" stroke="#8a8a8a" stroke-width="0.8"/>
<path d="M318.4 79.75h19.9" stroke="#7E2F8E" stroke-width="1.5"/>
<path d="M318.4 88h20.3" stroke="#000" stroke-width="1.5" stroke-dasharray="3.9 3.6"/>
<path d="M313.45 214.8v-1.4M313.45 135.9v1.4M321.07 214.8v-1.4M321.07 135.9v1.4M326.98 214.8v-1.4M326.98 135.9v1.4M331.81 214.8v-1.4M331.81 135.9v1.4M335.9 214.8v-1.4M335.9 135.9v1.4M339.43 214.8v-1.4M339.43 135.9v1.4M342.55 214.8v-1.4M342.55 135.9v1.4M345.34 214.8v-2.4M345.34 135.9v2.4M363.71 214.8v-1.4M363.71 135.9v1.4M374.45 214.8v-1.4M374.45 135.9v1.4M382.07 214.8v-1.4M382.07 135.9v1.4M387.98 214.8v-1.4M387.98 135.9v1.4M392.81 214.8v-1.4M392.81 135.9v1.4M396.89 214.8v-1.4M396.89 135.9v1.4M400.43 214.8v-1.4M400.43 135.9v1.4M403.55 214.8v-1.4M403.55 135.9v1.4M406.34 214.8v-2.4M406.34 135.9v2.4M424.7 214.8v-1.4M424.7 135.9v1.4M435.45 214.8v-1.4M435.45 135.9v1.4M443.07 214.8v-1.4M443.07 135.9v1.4M448.98 214.8v-1.4M448.98 135.9v1.4M453.81 214.8v-1.4M453.81 135.9v1.4M457.89 214.8v-1.4M457.89 135.9v1.4M461.43 214.8v-1.4M461.43 135.9v1.4M464.55 214.8v-1.4M464.55 135.9v1.4M467.34 214.8v-2.4M467.34 135.9v2.4M485.7 214.8v-1.4M485.7 135.9v1.4M496.44 214.8v-1.4M496.44 135.9v1.4M504.06 214.8v-1.4M504.06 135.9v1.4M509.98 214.8v-1.4M509.98 135.9v1.4M514.81 214.8v-1.4M514.81 135.9v1.4M518.89 214.8v-1.4M518.89 135.9v1.4M522.43 214.8v-1.4M522.43 135.9v1.4M525.55 214.8v-1.4M525.55 135.9v1.4M528.34 214.8v-2.4M528.34 135.9v2.4M546.7 214.8v-1.4M546.7 135.9v1.4M313.45 135.9h2.4M546.7 135.9h-2.4M313.45 143.45h1.4M546.7 143.45h-1.4M313.45 151h1.4M546.7 151h-1.4M313.45 158.55h1.4M546.7 158.55h-1.4M313.45 166.1h1.4M546.7 166.1h-1.4M313.45 173.65h2.4M546.7 173.65h-2.4M313.45 181.2h1.4M546.7 181.2h-1.4M313.45 188.75h1.4M546.7 188.75h-1.4M313.45 196.3h1.4M546.7 196.3h-1.4M313.45 203.85h1.4M546.7 203.85h-1.4M313.45 211.4h2.4M546.7 211.4h-2.4M313.45 135.9H546.7V214.8H313.45Z" stroke="#8a8a8a" stroke-width="0.8" fill="none"/>
<rect x="408.2" y="139.6" width="135.07" height="18.6" fill="#fff" stroke="#8a8a8a" stroke-width="0.8"/>
<path d="M410.2 144.95h19.9" stroke="#77AC30" stroke-width="1.5"/>
<path d="M410.2 153.2h20.3" stroke="#000" stroke-width="1.5" stroke-dasharray="3.9 3.6"/>
<path d="M313.45 331.3v-1.4M313.45 252.3v1.4M321.07 331.3v-1.4M321.07 252.3v1.4M326.98 331.3v-1.4M326.98 252.3v1.4M331.81 331.3v-1.4M331.81 252.3v1.4M335.9 331.3v-1.4M335.9 252.3v1.4M339.43 331.3v-1.4M339.43 252.3v1.4M342.55 331.3v-1.4M342.55 252.3v1.4M345.34 331.3v-2.4M345.34 252.3v2.4M363.71 331.3v-1.4M363.71 252.3v1.4M374.45 331.3v-1.4M374.45 252.3v1.4M382.07 331.3v-1.4M382.07 252.3v1.4M387.98 331.3v-1.4M387.98 252.3v1.4M392.81 331.3v-1.4M392.81 252.3v1.4M396.89 331.3v-1.4M396.89 252.3v1.4M400.43 331.3v-1.4M400.43 252.3v1.4M403.55 331.3v-1.4M403.55 252.3v1.4M406.34 331.3v-2.4M406.34 252.3v2.4M424.7 331.3v-1.4M424.7 252.3v1.4M435.45 331.3v-1.4M435.45 252.3v1.4M443.07 331.3v-1.4M443.07 252.3v1.4M448.98 331.3v-1.4M448.98 252.3v1.4M453.81 331.3v-1.4M453.81 252.3v1.4M457.89 331.3v-1.4M457.89 252.3v1.4M461.43 331.3v-1.4M461.43 252.3v1.4M464.55 331.3v-1.4M464.55 252.3v1.4M467.34 331.3v-2.4M467.34 252.3v2.4M485.7 331.3v-1.4M485.7 252.3v1.4M496.44 331.3v-1.4M496.44 252.3v1.4M504.06 331.3v-1.4M504.06 252.3v1.4M509.98 331.3v-1.4M509.98 252.3v1.4M514.81 331.3v-1.4M514.81 252.3v1.4M518.89 331.3v-1.4M518.89 252.3v1.4M522.43 331.3v-1.4M522.43 252.3v1.4M525.55 331.3v-1.4M525.55 252.3v1.4M528.34 331.3v-2.4M528.34 252.3v2.4M546.7 331.3v-1.4M546.7 252.3v1.4M313.45 252.3h2.4M546.7 252.3h-2.4M313.45 260.2h1.4M546.7 260.2h-1.4M313.45 268.1h1.4M546.7 268.1h-1.4M313.45 276h1.4M546.7 276h-1.4M313.45 283.9h1.4M546.7 283.9h-1.4M313.45 291.8h2.4M546.7 291.8h-2.4M313.45 299.7h1.4M546.7 299.7h-1.4M313.45 307.6h1.4M546.7 307.6h-1.4M313.45 315.5h1.4M546.7 315.5h-1.4M313.45 323.4h1.4M546.7 323.4h-1.4M313.45 331.3h2.4M546.7 331.3h-2.4M313.45 252.3H546.7V331.3H313.45Z" stroke="#8a8a8a" stroke-width="0.8" fill="none"/>
<rect x="407.6" y="256" width="135.07" height="18.6" fill="#fff" stroke="#8a8a8a" stroke-width="0.8"/>
<path d="M409.6 261.35h19.9" stroke="#4DBEEE" stroke-width="1.5"/>
<path d="M409.6 269.6h20.3" stroke="#000" stroke-width="1.5" stroke-dasharray="3.9 3.6"/>
<g fill="#262626" stroke="#262626" stroke-width="0.12">
<text x="144.4" y="29.75" font-size="6.3">FSO MEMS stabilization on - &quot;lower&quot; gain</text>
<text x="144.4" y="37.95" font-size="6.3">1-Hz linewidth laser (for comparison)</text>
<text x="134.6" y="148.45" font-size="6.66">FSO MEMS stabilization on - &quot;middle&quot; gain</text>
<text x="134.6" y="156.65" font-size="6.66">1-Hz linewidth laser (for comparison)</text>
<text x="61.45" y="317.95" font-size="6.68">FSO MEMS stabilization on - &quot;higher&quot; gain</text>
<text x="61.45" y="326.15" font-size="6.68">1-Hz linewidth laser (for comparison)</text>
<text x="340.4" y="82.75" font-size="6.68">FSO MEMS stabilization off</text>
<text x="340.4" y="90.95" font-size="6.68">1-Hz linewidth laser (for comparison)</text>
<text x="432.2" y="147.95" font-size="6.68">40m fiber link in-loop beat</text>
<text x="432.2" y="156.15" font-size="6.68">1-Hz linewidth laser (for comparison)</text>
<text x="431.6" y="264.35" font-size="6.68">2.6km urban fiber link in-loop beat</text>
<text x="431.6" y="272.55" font-size="6.68">1-Hz linewidth laser (for comparison)</text>
<text x="64.07" y="108.1" font-size="7" text-anchor="middle">10</text>
<text x="67.97" y="105" font-size="5">1</text>
<text x="125.21" y="108.1" font-size="7" text-anchor="middle">10</text>
<text x="129.11" y="105" font-size="5">2</text>
<text x="186.35" y="108.1" font-size="7" text-anchor="middle">10</text>
<text x="190.25" y="105" font-size="5">3</text>
<text x="247.49" y="108.1" font-size="7" text-anchor="middle">10</text>
<text x="251.39" y="105" font-size="5">4</text>
<text x="30.8" y="17.4" font-size="5" text-anchor="end">0</text>
<text x="27.92" y="20.5" font-size="7" text-anchor="end">10</text>
<text x="30.8" y="51.82" font-size="5" text-anchor="end">-5</text>
<text x="26.26" y="54.92" font-size="7" text-anchor="end">10</text>
<text x="30.8" y="86.23" font-size="5" text-anchor="end">-10</text>
<text x="23.48" y="89.33" font-size="7" text-anchor="end">10</text>
<text x="150.3" y="118.1" font-size="7.7" text-anchor="middle">Fourier frequency (Hz)</text>
<text transform="translate(10.9,56.55) rotate(-90)" font-size="7.7" text-anchor="middle">Phase noise PSD (rad<tspan font-size="5.4" dy="-4.0">2</tspan><tspan dy="4.0">/Hz)</tspan></text>
<text x="150.3" y="10.2" font-size="9.3" font-weight="bold" fill="#000" stroke="#000" text-anchor="middle">(a)</text>
<text x="64.07" y="227.1" font-size="7" text-anchor="middle">10</text>
<text x="67.97" y="224" font-size="5">1</text>
<text x="125.21" y="227.1" font-size="7" text-anchor="middle">10</text>
<text x="129.11" y="224" font-size="5">2</text>
<text x="186.35" y="227.1" font-size="7" text-anchor="middle">10</text>
<text x="190.25" y="224" font-size="5">3</text>
<text x="247.49" y="227.1" font-size="7" text-anchor="middle">10</text>
<text x="251.39" y="224" font-size="5">4</text>
<text x="30.8" y="136.7" font-size="5" text-anchor="end">0</text>
<text x="27.92" y="139.8" font-size="7" text-anchor="end">10</text>
<text x="30.8" y="170.99" font-size="5" text-anchor="end">-5</text>
<text x="26.26" y="174.09" font-size="7" text-anchor="end">10</text>
<text x="30.8" y="205.27" font-size="5" text-anchor="end">-10</text>
<text x="23.48" y="208.37" font-size="7" text-anchor="end">10</text>
<text x="150.3" y="237.1" font-size="7.7" text-anchor="middle">Fourier frequency (Hz)</text>
<text transform="translate(10.9,175.7) rotate(-90)" font-size="7.7" text-anchor="middle">Phase noise PSD (rad<tspan font-size="5.4" dy="-4.0">2</tspan><tspan dy="4.0">/Hz)</tspan></text>
<text x="150.3" y="130.9" font-size="9.3" font-weight="bold" fill="#000" stroke="#000" text-anchor="middle">(b)</text>
<text x="64.07" y="344" font-size="7" text-anchor="middle">10</text>
<text x="67.97" y="340.9" font-size="5">1</text>
<text x="125.21" y="344" font-size="7" text-anchor="middle">10</text>
<text x="129.11" y="340.9" font-size="5">2</text>
<text x="186.35" y="344" font-size="7" text-anchor="middle">10</text>
<text x="190.25" y="340.9" font-size="5">3</text>
<text x="247.49" y="344" font-size="7" text-anchor="middle">10</text>
<text x="251.39" y="340.9" font-size="5">4</text>
<text x="30.8" y="253.6" font-size="5" text-anchor="end">0</text>
<text x="27.92" y="256.7" font-size="7" text-anchor="end">10</text>
<text x="30.8" y="280" font-size="5" text-anchor="end">-5</text>
<text x="26.26" y="283.1" font-size="7" text-anchor="end">10</text>
<text x="30.8" y="306.4" font-size="5" text-anchor="end">-10</text>
<text x="23.48" y="309.5" font-size="7" text-anchor="end">10</text>
<text x="30.8" y="332.8" font-size="5" text-anchor="end">-15</text>
<text x="23.48" y="335.9" font-size="7" text-anchor="end">10</text>
<text x="150.3" y="354" font-size="7.7" text-anchor="middle">Fourier frequency (Hz)</text>
<text transform="translate(10.9,292.6) rotate(-90)" font-size="7.7" text-anchor="middle">Phase noise PSD (rad<tspan font-size="5.4" dy="-4.0">2</tspan><tspan dy="4.0">/Hz)</tspan></text>
<text x="150.3" y="248" font-size="9.3" font-weight="bold" fill="#000" stroke="#000" text-anchor="middle">(c)</text>
<text x="344.04" y="108" font-size="7" text-anchor="middle">10</text>
<text x="347.94" y="104.9" font-size="5">1</text>
<text x="405.04" y="108" font-size="7" text-anchor="middle">10</text>
<text x="408.94" y="104.9" font-size="5">2</text>
<text x="466.04" y="108" font-size="7" text-anchor="middle">10</text>
<text x="469.94" y="104.9" font-size="5">3</text>
<text x="527.04" y="108" font-size="7" text-anchor="middle">10</text>
<text x="530.94" y="104.9" font-size="5">4</text>
<text x="310.85" y="17.7" font-size="5" text-anchor="end">0</text>
<text x="307.97" y="20.8" font-size="7" text-anchor="end">10</text>
<text x="310.85" y="44.07" font-size="5" text-anchor="end">-5</text>
<text x="306.31" y="47.17" font-size="7" text-anchor="end">10</text>
<text x="310.85" y="70.43" font-size="5" text-anchor="end">-10</text>
<text x="303.53" y="73.53" font-size="7" text-anchor="end">10</text>
<text x="310.85" y="96.8" font-size="5" text-anchor="end">-15</text>
<text x="303.53" y="99.9" font-size="7" text-anchor="end">10</text>
<text x="430.08" y="118" font-size="7.7" text-anchor="middle">Fourier frequency (Hz)</text>
<text transform="translate(290.7,56.65) rotate(-90)" font-size="7.7" text-anchor="middle">Phase noise PSD (rad<tspan font-size="5.4" dy="-4.0">2</tspan><tspan dy="4.0">/Hz)</tspan></text>
<text x="430.08" y="11.1" font-size="9.3" font-weight="bold" fill="#000" stroke="#000" text-anchor="middle">(d)</text>
<text x="344.04" y="226.6" font-size="7" text-anchor="middle">10</text>
<text x="347.94" y="223.5" font-size="5">1</text>
<text x="405.04" y="226.6" font-size="7" text-anchor="middle">10</text>
<text x="408.94" y="223.5" font-size="5">2</text>
<text x="466.04" y="226.6" font-size="7" text-anchor="middle">10</text>
<text x="469.94" y="223.5" font-size="5">3</text>
<text x="527.04" y="226.6" font-size="7" text-anchor="middle">10</text>
<text x="530.94" y="223.5" font-size="5">4</text>
<text x="310.85" y="136.5" font-size="5" text-anchor="end">0</text>
<text x="307.97" y="139.6" font-size="7" text-anchor="end">10</text>
<text x="310.85" y="174.25" font-size="5" text-anchor="end">-5</text>
<text x="306.31" y="177.35" font-size="7" text-anchor="end">10</text>
<text x="310.85" y="212" font-size="5" text-anchor="end">-10</text>
<text x="303.53" y="215.1" font-size="7" text-anchor="end">10</text>
<text x="430.08" y="236.6" font-size="7.7" text-anchor="middle">Fourier frequency (Hz)</text>
<text transform="translate(290.7,175.35) rotate(-90)" font-size="7.7" text-anchor="middle">Phase noise PSD (rad<tspan font-size="5.4" dy="-4.0">2</tspan><tspan dy="4.0">/Hz)</tspan></text>
<text x="430.08" y="129.9" font-size="9.3" font-weight="bold" fill="#000" stroke="#000" text-anchor="middle">(e)</text>
<text x="344.04" y="343.1" font-size="7" text-anchor="middle">10</text>
<text x="347.94" y="340" font-size="5">1</text>
<text x="405.04" y="343.1" font-size="7" text-anchor="middle">10</text>
<text x="408.94" y="340" font-size="5">2</text>
<text x="466.04" y="343.1" font-size="7" text-anchor="middle">10</text>
<text x="469.94" y="340" font-size="5">3</text>
<text x="527.04" y="343.1" font-size="7" text-anchor="middle">10</text>
<text x="530.94" y="340" font-size="5">4</text>
<text x="310.85" y="252.9" font-size="5" text-anchor="end">0</text>
<text x="307.97" y="256" font-size="7" text-anchor="end">10</text>
<text x="310.85" y="292.4" font-size="5" text-anchor="end">-5</text>
<text x="306.31" y="295.5" font-size="7" text-anchor="end">10</text>
<text x="310.85" y="331.9" font-size="5" text-anchor="end">-10</text>
<text x="303.53" y="335" font-size="7" text-anchor="end">10</text>
<text x="430.08" y="353.1" font-size="7.7" text-anchor="middle">Fourier frequency (Hz)</text>
<text transform="translate(290.7,291.8) rotate(-90)" font-size="7.7" text-anchor="middle">Phase noise PSD (rad<tspan font-size="5.4" dy="-4.0">2</tspan><tspan dy="4.0">/Hz)</tspan></text>
<text x="430.08" y="247.4" font-size="9.3" font-weight="bold" fill="#000" stroke="#000" text-anchor="middle">(f)</text>
</g></g></svg></body></html>
